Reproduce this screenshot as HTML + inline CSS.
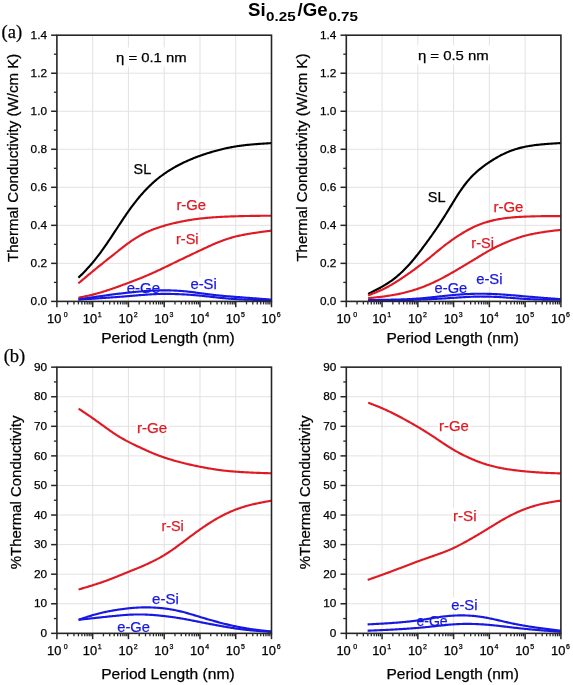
<!DOCTYPE html>
<html><head><meta charset="utf-8"><style>html,body{margin:0;padding:0;background:#fff;}svg{display:block;}text{stroke:#000;stroke-width:0.25px;}</style></head>
<body><svg width="573" height="685" viewBox="0 0 573 685" font-family="'Liberation Sans', Arial, sans-serif">
<rect width="573" height="685" fill="#fff"/>
<text x="248.0" y="15.5" font-size="18" textLength="17.6" font-weight="bold" lengthAdjust="spacingAndGlyphs" style="stroke:none">Si</text>
<text x="266.0" y="20.8" font-size="13" textLength="29.6" font-weight="bold" lengthAdjust="spacingAndGlyphs" style="stroke:none">0.25</text>
<text x="297.6" y="15.5" font-size="18" textLength="30" font-weight="bold" lengthAdjust="spacingAndGlyphs" style="stroke:none">/Ge</text>
<text x="328.4" y="20.8" font-size="13" textLength="29.6" font-weight="bold" lengthAdjust="spacingAndGlyphs" style="stroke:none">0.75</text>
<text x="1.6" y="38.0" font-family="'Liberation Serif', serif" font-size="18.5">(a)</text>
<text x="3.7" y="362.1" font-family="'Liberation Serif', serif" font-size="18.5">(b)</text>
<line x1="92.67" y1="35.2" x2="92.67" y2="301.4" stroke="#e2e2e2" stroke-width="1"/>
<line x1="128.43" y1="35.2" x2="128.43" y2="301.4" stroke="#e2e2e2" stroke-width="1"/>
<line x1="164.20" y1="35.2" x2="164.20" y2="301.4" stroke="#e2e2e2" stroke-width="1"/>
<line x1="199.97" y1="35.2" x2="199.97" y2="301.4" stroke="#e2e2e2" stroke-width="1"/>
<line x1="235.73" y1="35.2" x2="235.73" y2="301.4" stroke="#e2e2e2" stroke-width="1"/>
<line x1="56.9" y1="263.37" x2="271.5" y2="263.37" stroke="#e2e2e2" stroke-width="1"/>
<line x1="56.9" y1="225.34" x2="271.5" y2="225.34" stroke="#e2e2e2" stroke-width="1"/>
<line x1="56.9" y1="187.31" x2="271.5" y2="187.31" stroke="#e2e2e2" stroke-width="1"/>
<line x1="56.9" y1="149.29" x2="271.5" y2="149.29" stroke="#e2e2e2" stroke-width="1"/>
<line x1="56.9" y1="111.26" x2="271.5" y2="111.26" stroke="#e2e2e2" stroke-width="1"/>
<line x1="56.9" y1="73.23" x2="271.5" y2="73.23" stroke="#e2e2e2" stroke-width="1"/>
<rect x="114" y="47.5" width="76" height="19" fill="#fff"/>
<text x="116.0" y="61.8" fill="#000" style="stroke:#000" font-size="13.5" textLength="70.6" lengthAdjust="spacingAndGlyphs">η = 0.1 nm</text>
<rect x="132.7" y="161.8" width="20.1" height="14.6" fill="#fff"/>
<rect x="175.5" y="197.8" width="32.2" height="14.6" fill="#fff"/>
<rect x="175.1" y="231.9" width="25.1" height="14.6" fill="#fff"/>
<rect x="125.8" y="280.9" width="36.0" height="14.6" fill="#fff"/>
<rect x="189.5" y="277.2" width="29.0" height="14.6" fill="#fff"/>
<text x="133.6" y="173.9" fill="#000" style="stroke:#000" font-size="14" textLength="17.5" lengthAdjust="spacingAndGlyphs">SL</text>
<text x="176.4" y="209.9" fill="#e01a22" style="stroke:#e01a22" font-size="14" textLength="29.6" lengthAdjust="spacingAndGlyphs">r-Ge</text>
<text x="176.0" y="244.0" fill="#e01a22" style="stroke:#e01a22" font-size="14" textLength="22.5" lengthAdjust="spacingAndGlyphs">r-Si</text>
<text x="126.7" y="293.0" fill="#1818e4" style="stroke:#1818e4" font-size="14" textLength="33.4" lengthAdjust="spacingAndGlyphs">e-Ge</text>
<text x="190.4" y="289.3" fill="#1818e4" style="stroke:#1818e4" font-size="14" textLength="26.4" lengthAdjust="spacingAndGlyphs">e-Si</text>
<path d="M78.40,277.81 L79.37,276.83 L80.34,275.86 L81.31,274.88 L82.28,273.90 L83.25,272.92 L84.22,271.92 L85.19,270.91 L86.16,269.89 L87.13,268.86 L88.10,267.81 L89.07,266.75 L90.04,265.66 L91.01,264.56 L91.98,263.43 L92.96,262.28 L93.93,261.10 L94.90,259.91 L95.87,258.69 L96.84,257.44 L97.81,256.18 L98.78,254.90 L99.75,253.60 L100.72,252.28 L101.69,250.94 L102.66,249.59 L103.63,248.22 L104.60,246.84 L105.57,245.44 L106.54,244.04 L107.51,242.61 L108.48,241.18 L109.45,239.74 L110.42,238.29 L111.39,236.83 L112.36,235.37 L113.33,233.90 L114.30,232.42 L115.27,230.95 L116.24,229.47 L117.21,227.99 L118.18,226.51 L119.15,225.03 L120.13,223.55 L121.10,222.09 L122.07,220.62 L123.04,219.17 L124.01,217.72 L124.98,216.29 L125.95,214.87 L126.92,213.46 L127.89,212.07 L128.86,210.69 L129.83,209.33 L130.80,207.99 L131.77,206.67 L132.74,205.37 L133.71,204.08 L134.68,202.82 L135.65,201.58 L136.62,200.35 L137.59,199.15 L138.56,197.97 L139.53,196.81 L140.50,195.67 L141.47,194.55 L142.44,193.45 L143.41,192.37 L144.38,191.31 L145.35,190.27 L146.32,189.25 L147.29,188.25 L148.27,187.27 L149.24,186.30 L150.21,185.36 L151.18,184.44 L152.15,183.53 L153.12,182.65 L154.09,181.78 L155.06,180.93 L156.03,180.10 L157.00,179.29 L157.97,178.50 L158.94,177.73 L159.91,176.97 L160.88,176.23 L161.85,175.51 L162.82,174.80 L163.79,174.10 L164.76,173.43 L165.73,172.76 L166.70,172.11 L167.67,171.47 L168.64,170.85 L169.61,170.24 L170.58,169.64 L171.55,169.05 L172.52,168.47 L173.49,167.90 L174.46,167.35 L175.44,166.80 L176.41,166.27 L177.38,165.75 L178.35,165.23 L179.32,164.72 L180.29,164.23 L181.26,163.74 L182.23,163.26 L183.20,162.79 L184.17,162.32 L185.14,161.87 L186.11,161.42 L187.08,160.98 L188.05,160.55 L189.02,160.13 L189.99,159.71 L190.96,159.30 L191.93,158.89 L192.90,158.50 L193.87,158.11 L194.84,157.72 L195.81,157.35 L196.78,156.98 L197.75,156.61 L198.72,156.25 L199.69,155.90 L200.66,155.55 L201.63,155.21 L202.61,154.88 L203.58,154.55 L204.55,154.23 L205.52,153.91 L206.49,153.59 L207.46,153.29 L208.43,152.98 L209.40,152.69 L210.37,152.39 L211.34,152.10 L212.31,151.82 L213.28,151.54 L214.25,151.26 L215.22,150.99 L216.19,150.73 L217.16,150.47 L218.13,150.21 L219.10,149.95 L220.07,149.71 L221.04,149.46 L222.01,149.23 L222.98,148.99 L223.95,148.76 L224.92,148.54 L225.89,148.32 L226.86,148.11 L227.83,147.90 L228.80,147.70 L229.77,147.51 L230.75,147.32 L231.72,147.13 L232.69,146.95 L233.66,146.78 L234.63,146.61 L235.60,146.45 L236.57,146.30 L237.54,146.15 L238.51,146.00 L239.48,145.87 L240.45,145.73 L241.42,145.60 L242.39,145.48 L243.36,145.36 L244.33,145.25 L245.30,145.13 L246.27,145.03 L247.24,144.92 L248.21,144.83 L249.18,144.73 L250.15,144.64 L251.12,144.55 L252.09,144.46 L253.06,144.37 L254.03,144.29 L255.00,144.21 L255.97,144.13 L256.94,144.06 L257.92,143.99 L258.89,143.91 L259.86,143.84 L260.83,143.77 L261.80,143.71 L262.77,143.64 L263.74,143.58 L264.71,143.51 L265.68,143.45 L266.65,143.39 L267.62,143.33 L268.59,143.27 L269.56,143.20 L270.53,143.14 L271.50,143.08" fill="none" stroke="#000" stroke-width="2.15" stroke-linejoin="round" stroke-linecap="butt"/>
<path d="M78.40,283.37 L79.37,282.55 L80.34,281.73 L81.31,280.91 L82.28,280.09 L83.25,279.27 L84.22,278.45 L85.19,277.63 L86.16,276.81 L87.13,276.00 L88.10,275.19 L89.07,274.38 L90.04,273.57 L91.01,272.76 L91.98,271.96 L92.96,271.16 L93.93,270.36 L94.90,269.57 L95.87,268.78 L96.84,267.99 L97.81,267.20 L98.78,266.42 L99.75,265.63 L100.72,264.85 L101.69,264.07 L102.66,263.30 L103.63,262.52 L104.60,261.75 L105.57,260.97 L106.54,260.20 L107.51,259.43 L108.48,258.66 L109.45,257.89 L110.42,257.12 L111.39,256.36 L112.36,255.59 L113.33,254.82 L114.30,254.05 L115.27,253.28 L116.24,252.51 L117.21,251.74 L118.18,250.97 L119.15,250.20 L120.13,249.44 L121.10,248.67 L122.07,247.91 L123.04,247.16 L124.01,246.41 L124.98,245.66 L125.95,244.93 L126.92,244.20 L127.89,243.48 L128.86,242.77 L129.83,242.08 L130.80,241.39 L131.77,240.72 L132.74,240.06 L133.71,239.41 L134.68,238.78 L135.65,238.16 L136.62,237.55 L137.59,236.96 L138.56,236.39 L139.53,235.83 L140.50,235.28 L141.47,234.75 L142.44,234.24 L143.41,233.74 L144.38,233.26 L145.35,232.79 L146.32,232.33 L147.29,231.89 L148.27,231.46 L149.24,231.04 L150.21,230.63 L151.18,230.23 L152.15,229.85 L153.12,229.47 L154.09,229.10 L155.06,228.74 L156.03,228.40 L157.00,228.06 L157.97,227.72 L158.94,227.40 L159.91,227.09 L160.88,226.78 L161.85,226.47 L162.82,226.18 L163.79,225.89 L164.76,225.61 L165.73,225.33 L166.70,225.06 L167.67,224.79 L168.64,224.53 L169.61,224.27 L170.58,224.02 L171.55,223.78 L172.52,223.54 L173.49,223.30 L174.46,223.07 L175.44,222.84 L176.41,222.62 L177.38,222.41 L178.35,222.19 L179.32,221.99 L180.29,221.78 L181.26,221.59 L182.23,221.39 L183.20,221.21 L184.17,221.02 L185.14,220.84 L186.11,220.67 L187.08,220.50 L188.05,220.33 L189.02,220.17 L189.99,220.01 L190.96,219.86 L191.93,219.71 L192.90,219.56 L193.87,219.42 L194.84,219.28 L195.81,219.15 L196.78,219.02 L197.75,218.90 L198.72,218.77 L199.69,218.66 L200.66,218.54 L201.63,218.43 L202.61,218.33 L203.58,218.22 L204.55,218.12 L205.52,218.03 L206.49,217.93 L207.46,217.84 L208.43,217.76 L209.40,217.67 L210.37,217.59 L211.34,217.51 L212.31,217.44 L213.28,217.37 L214.25,217.30 L215.22,217.23 L216.19,217.16 L217.16,217.10 L218.13,217.04 L219.10,216.99 L220.07,216.93 L221.04,216.88 L222.01,216.83 L222.98,216.78 L223.95,216.73 L224.92,216.68 L225.89,216.64 L226.86,216.60 L227.83,216.56 L228.80,216.52 L229.77,216.48 L230.75,216.44 L231.72,216.41 L232.69,216.37 L233.66,216.34 L234.63,216.31 L235.60,216.28 L236.57,216.25 L237.54,216.22 L238.51,216.20 L239.48,216.17 L240.45,216.14 L241.42,216.12 L242.39,216.10 L243.36,216.08 L244.33,216.05 L245.30,216.03 L246.27,216.01 L247.24,216.00 L248.21,215.98 L249.18,215.96 L250.15,215.94 L251.12,215.93 L252.09,215.91 L253.06,215.90 L254.03,215.88 L255.00,215.87 L255.97,215.86 L256.94,215.85 L257.92,215.83 L258.89,215.82 L259.86,215.81 L260.83,215.80 L261.80,215.79 L262.77,215.78 L263.74,215.77 L264.71,215.76 L265.68,215.75 L266.65,215.74 L267.62,215.73 L268.59,215.72 L269.56,215.71 L270.53,215.71 L271.50,215.70" fill="none" stroke="#e01a22" stroke-width="2.15" stroke-linejoin="round" stroke-linecap="butt"/>
<path d="M78.40,297.75 L79.37,297.56 L80.34,297.36 L81.31,297.17 L82.28,296.97 L83.25,296.77 L84.22,296.57 L85.19,296.37 L86.16,296.16 L87.13,295.95 L88.10,295.74 L89.07,295.52 L90.04,295.29 L91.01,295.06 L91.98,294.83 L92.96,294.59 L93.93,294.34 L94.90,294.09 L95.87,293.83 L96.84,293.56 L97.81,293.29 L98.78,293.01 L99.75,292.73 L100.72,292.45 L101.69,292.16 L102.66,291.86 L103.63,291.56 L104.60,291.25 L105.57,290.94 L106.54,290.63 L107.51,290.31 L108.48,289.99 L109.45,289.67 L110.42,289.34 L111.39,289.01 L112.36,288.68 L113.33,288.34 L114.30,288.00 L115.27,287.66 L116.24,287.32 L117.21,286.97 L118.18,286.62 L119.15,286.27 L120.13,285.92 L121.10,285.57 L122.07,285.22 L123.04,284.86 L124.01,284.50 L124.98,284.14 L125.95,283.78 L126.92,283.42 L127.89,283.06 L128.86,282.69 L129.83,282.33 L130.80,281.96 L131.77,281.59 L132.74,281.23 L133.71,280.85 L134.68,280.48 L135.65,280.11 L136.62,279.73 L137.59,279.35 L138.56,278.97 L139.53,278.58 L140.50,278.19 L141.47,277.80 L142.44,277.40 L143.41,277.00 L144.38,276.60 L145.35,276.19 L146.32,275.78 L147.29,275.37 L148.27,274.96 L149.24,274.53 L150.21,274.11 L151.18,273.68 L152.15,273.25 L153.12,272.82 L154.09,272.38 L155.06,271.94 L156.03,271.50 L157.00,271.05 L157.97,270.60 L158.94,270.14 L159.91,269.69 L160.88,269.23 L161.85,268.77 L162.82,268.30 L163.79,267.84 L164.76,267.37 L165.73,266.90 L166.70,266.43 L167.67,265.96 L168.64,265.49 L169.61,265.01 L170.58,264.54 L171.55,264.07 L172.52,263.59 L173.49,263.12 L174.46,262.65 L175.44,262.18 L176.41,261.71 L177.38,261.24 L178.35,260.77 L179.32,260.31 L180.29,259.84 L181.26,259.37 L182.23,258.91 L183.20,258.44 L184.17,257.98 L185.14,257.51 L186.11,257.05 L187.08,256.59 L188.05,256.13 L189.02,255.67 L189.99,255.20 L190.96,254.74 L191.93,254.28 L192.90,253.82 L193.87,253.36 L194.84,252.90 L195.81,252.44 L196.78,251.99 L197.75,251.53 L198.72,251.07 L199.69,250.61 L200.66,250.15 L201.63,249.69 L202.61,249.24 L203.58,248.78 L204.55,248.33 L205.52,247.87 L206.49,247.42 L207.46,246.97 L208.43,246.53 L209.40,246.09 L210.37,245.65 L211.34,245.21 L212.31,244.78 L213.28,244.36 L214.25,243.94 L215.22,243.52 L216.19,243.11 L217.16,242.71 L218.13,242.31 L219.10,241.92 L220.07,241.54 L221.04,241.16 L222.01,240.79 L222.98,240.43 L223.95,240.08 L224.92,239.74 L225.89,239.41 L226.86,239.09 L227.83,238.77 L228.80,238.46 L229.77,238.17 L230.75,237.88 L231.72,237.60 L232.69,237.32 L233.66,237.06 L234.63,236.80 L235.60,236.56 L236.57,236.32 L237.54,236.08 L238.51,235.86 L239.48,235.64 L240.45,235.43 L241.42,235.22 L242.39,235.03 L243.36,234.83 L244.33,234.64 L245.30,234.46 L246.27,234.29 L247.24,234.11 L248.21,233.94 L249.18,233.78 L250.15,233.62 L251.12,233.46 L252.09,233.31 L253.06,233.16 L254.03,233.01 L255.00,232.87 L255.97,232.72 L256.94,232.58 L257.92,232.45 L258.89,232.31 L259.86,232.18 L260.83,232.05 L261.80,231.92 L262.77,231.79 L263.74,231.66 L264.71,231.54 L265.68,231.41 L266.65,231.29 L267.62,231.17 L268.59,231.05 L269.56,230.92 L270.53,230.80 L271.50,230.68" fill="none" stroke="#e01a22" stroke-width="2.15" stroke-linejoin="round" stroke-linecap="butt"/>
<path d="M78.40,299.40 L79.37,299.25 L80.34,299.11 L81.31,298.96 L82.28,298.82 L83.25,298.67 L84.22,298.53 L85.19,298.38 L86.16,298.24 L87.13,298.10 L88.10,297.95 L89.07,297.81 L90.04,297.67 L91.01,297.52 L91.98,297.38 L92.96,297.24 L93.93,297.10 L94.90,296.96 L95.87,296.82 L96.84,296.68 L97.81,296.54 L98.78,296.40 L99.75,296.26 L100.72,296.13 L101.69,295.99 L102.66,295.85 L103.63,295.72 L104.60,295.58 L105.57,295.45 L106.54,295.32 L107.51,295.19 L108.48,295.06 L109.45,294.93 L110.42,294.80 L111.39,294.67 L112.36,294.54 L113.33,294.42 L114.30,294.29 L115.27,294.17 L116.24,294.04 L117.21,293.92 L118.18,293.80 L119.15,293.68 L120.13,293.57 L121.10,293.45 L122.07,293.33 L123.04,293.22 L124.01,293.11 L124.98,293.00 L125.95,292.89 L126.92,292.78 L127.89,292.67 L128.86,292.57 L129.83,292.46 L130.80,292.36 L131.77,292.26 L132.74,292.17 L133.71,292.07 L134.68,291.98 L135.65,291.88 L136.62,291.79 L137.59,291.70 L138.56,291.62 L139.53,291.54 L140.50,291.45 L141.47,291.38 L142.44,291.30 L143.41,291.23 L144.38,291.15 L145.35,291.09 L146.32,291.02 L147.29,290.96 L148.27,290.90 L149.24,290.84 L150.21,290.78 L151.18,290.73 L152.15,290.68 L153.12,290.64 L154.09,290.60 L155.06,290.56 L156.03,290.52 L157.00,290.49 L157.97,290.46 L158.94,290.43 L159.91,290.41 L160.88,290.39 L161.85,290.38 L162.82,290.37 L163.79,290.36 L164.76,290.36 L165.73,290.36 L166.70,290.37 L167.67,290.37 L168.64,290.39 L169.61,290.40 L170.58,290.43 L171.55,290.45 L172.52,290.48 L173.49,290.52 L174.46,290.56 L175.44,290.60 L176.41,290.65 L177.38,290.70 L178.35,290.76 L179.32,290.82 L180.29,290.88 L181.26,290.96 L182.23,291.03 L183.20,291.11 L184.17,291.20 L185.14,291.29 L186.11,291.38 L187.08,291.48 L188.05,291.59 L189.02,291.70 L189.99,291.81 L190.96,291.93 L191.93,292.05 L192.90,292.18 L193.87,292.31 L194.84,292.44 L195.81,292.58 L196.78,292.71 L197.75,292.85 L198.72,292.99 L199.69,293.13 L200.66,293.27 L201.63,293.40 L202.61,293.54 L203.58,293.67 L204.55,293.80 L205.52,293.93 L206.49,294.06 L207.46,294.18 L208.43,294.31 L209.40,294.43 L210.37,294.55 L211.34,294.66 L212.31,294.78 L213.28,294.89 L214.25,294.99 L215.22,295.10 L216.19,295.20 L217.16,295.30 L218.13,295.40 L219.10,295.50 L220.07,295.59 L221.04,295.68 L222.01,295.77 L222.98,295.86 L223.95,295.95 L224.92,296.03 L225.89,296.11 L226.86,296.20 L227.83,296.28 L228.80,296.35 L229.77,296.43 L230.75,296.51 L231.72,296.59 L232.69,296.66 L233.66,296.74 L234.63,296.81 L235.60,296.89 L236.57,296.96 L237.54,297.04 L238.51,297.11 L239.48,297.19 L240.45,297.26 L241.42,297.34 L242.39,297.41 L243.36,297.48 L244.33,297.56 L245.30,297.63 L246.27,297.70 L247.24,297.78 L248.21,297.85 L249.18,297.93 L250.15,298.00 L251.12,298.07 L252.09,298.15 L253.06,298.22 L254.03,298.29 L255.00,298.36 L255.97,298.44 L256.94,298.51 L257.92,298.58 L258.89,298.66 L259.86,298.73 L260.83,298.80 L261.80,298.87 L262.77,298.95 L263.74,299.02 L264.71,299.09 L265.68,299.17 L266.65,299.24 L267.62,299.31 L268.59,299.38 L269.56,299.46 L270.53,299.53 L271.50,299.60" fill="none" stroke="#1818e4" stroke-width="2.15" stroke-linejoin="round" stroke-linecap="butt"/>
<path d="M78.40,299.60 L79.37,299.54 L80.34,299.48 L81.31,299.42 L82.28,299.36 L83.25,299.30 L84.22,299.24 L85.19,299.18 L86.16,299.12 L87.13,299.05 L88.10,298.99 L89.07,298.93 L90.04,298.87 L91.01,298.81 L91.98,298.75 L92.96,298.68 L93.93,298.62 L94.90,298.56 L95.87,298.49 L96.84,298.43 L97.81,298.37 L98.78,298.30 L99.75,298.24 L100.72,298.17 L101.69,298.11 L102.66,298.04 L103.63,297.98 L104.60,297.91 L105.57,297.85 L106.54,297.78 L107.51,297.71 L108.48,297.64 L109.45,297.58 L110.42,297.51 L111.39,297.44 L112.36,297.37 L113.33,297.30 L114.30,297.23 L115.27,297.15 L116.24,297.08 L117.21,297.01 L118.18,296.93 L119.15,296.86 L120.13,296.79 L121.10,296.71 L122.07,296.63 L123.04,296.56 L124.01,296.48 L124.98,296.40 L125.95,296.32 L126.92,296.24 L127.89,296.16 L128.86,296.08 L129.83,296.00 L130.80,295.92 L131.77,295.83 L132.74,295.75 L133.71,295.67 L134.68,295.59 L135.65,295.51 L136.62,295.43 L137.59,295.35 L138.56,295.27 L139.53,295.19 L140.50,295.11 L141.47,295.03 L142.44,294.96 L143.41,294.88 L144.38,294.81 L145.35,294.74 L146.32,294.67 L147.29,294.60 L148.27,294.53 L149.24,294.47 L150.21,294.41 L151.18,294.35 L152.15,294.29 L153.12,294.24 L154.09,294.19 L155.06,294.14 L156.03,294.09 L157.00,294.05 L157.97,294.02 L158.94,293.98 L159.91,293.96 L160.88,293.93 L161.85,293.92 L162.82,293.90 L163.79,293.89 L164.76,293.89 L165.73,293.89 L166.70,293.89 L167.67,293.90 L168.64,293.91 L169.61,293.92 L170.58,293.94 L171.55,293.96 L172.52,293.98 L173.49,294.00 L174.46,294.03 L175.44,294.06 L176.41,294.09 L177.38,294.13 L178.35,294.16 L179.32,294.20 L180.29,294.24 L181.26,294.29 L182.23,294.33 L183.20,294.38 L184.17,294.43 L185.14,294.49 L186.11,294.54 L187.08,294.60 L188.05,294.66 L189.02,294.73 L189.99,294.79 L190.96,294.86 L191.93,294.93 L192.90,295.01 L193.87,295.09 L194.84,295.17 L195.81,295.25 L196.78,295.34 L197.75,295.43 L198.72,295.52 L199.69,295.61 L200.66,295.71 L201.63,295.80 L202.61,295.90 L203.58,296.00 L204.55,296.10 L205.52,296.21 L206.49,296.31 L207.46,296.42 L208.43,296.52 L209.40,296.63 L210.37,296.74 L211.34,296.85 L212.31,296.96 L213.28,297.07 L214.25,297.17 L215.22,297.28 L216.19,297.39 L217.16,297.50 L218.13,297.60 L219.10,297.70 L220.07,297.81 L221.04,297.91 L222.01,298.00 L222.98,298.10 L223.95,298.19 L224.92,298.28 L225.89,298.37 L226.86,298.46 L227.83,298.54 L228.80,298.63 L229.77,298.71 L230.75,298.78 L231.72,298.86 L232.69,298.93 L233.66,299.00 L234.63,299.06 L235.60,299.12 L236.57,299.18 L237.54,299.24 L238.51,299.29 L239.48,299.34 L240.45,299.39 L241.42,299.44 L242.39,299.48 L243.36,299.52 L244.33,299.56 L245.30,299.60 L246.27,299.63 L247.24,299.66 L248.21,299.69 L249.18,299.72 L250.15,299.75 L251.12,299.77 L252.09,299.79 L253.06,299.81 L254.03,299.83 L255.00,299.85 L255.97,299.87 L256.94,299.88 L257.92,299.90 L258.89,299.91 L259.86,299.92 L260.83,299.93 L261.80,299.94 L262.77,299.95 L263.74,299.96 L264.71,299.97 L265.68,299.97 L266.65,299.98 L267.62,299.99 L268.59,299.99 L269.56,300.00 L270.53,300.00 L271.50,300.01" fill="none" stroke="#1818e4" stroke-width="2.15" stroke-linejoin="round" stroke-linecap="butt"/>
<line x1="51.10" y1="301.40" x2="56.9" y2="301.40" stroke="#262626" stroke-width="1.5"/>
<text x="47.00" y="305.10" text-anchor="end" font-size="11.8">0.0</text>
<line x1="53.90" y1="282.39" x2="56.9" y2="282.39" stroke="#262626" stroke-width="1.3"/>
<line x1="51.10" y1="263.37" x2="56.9" y2="263.37" stroke="#262626" stroke-width="1.5"/>
<text x="47.00" y="267.07" text-anchor="end" font-size="11.8">0.2</text>
<line x1="53.90" y1="244.36" x2="56.9" y2="244.36" stroke="#262626" stroke-width="1.3"/>
<line x1="51.10" y1="225.34" x2="56.9" y2="225.34" stroke="#262626" stroke-width="1.5"/>
<text x="47.00" y="229.04" text-anchor="end" font-size="11.8">0.4</text>
<line x1="53.90" y1="206.33" x2="56.9" y2="206.33" stroke="#262626" stroke-width="1.3"/>
<line x1="51.10" y1="187.31" x2="56.9" y2="187.31" stroke="#262626" stroke-width="1.5"/>
<text x="47.00" y="191.01" text-anchor="end" font-size="11.8">0.6</text>
<line x1="53.90" y1="168.30" x2="56.9" y2="168.30" stroke="#262626" stroke-width="1.3"/>
<line x1="51.10" y1="149.29" x2="56.9" y2="149.29" stroke="#262626" stroke-width="1.5"/>
<text x="47.00" y="152.99" text-anchor="end" font-size="11.8">0.8</text>
<line x1="53.90" y1="130.27" x2="56.9" y2="130.27" stroke="#262626" stroke-width="1.3"/>
<line x1="51.10" y1="111.26" x2="56.9" y2="111.26" stroke="#262626" stroke-width="1.5"/>
<text x="47.00" y="114.96" text-anchor="end" font-size="11.8">1.0</text>
<line x1="53.90" y1="92.24" x2="56.9" y2="92.24" stroke="#262626" stroke-width="1.3"/>
<line x1="51.10" y1="73.23" x2="56.9" y2="73.23" stroke="#262626" stroke-width="1.5"/>
<text x="47.00" y="76.93" text-anchor="end" font-size="11.8">1.2</text>
<line x1="53.90" y1="54.21" x2="56.9" y2="54.21" stroke="#262626" stroke-width="1.3"/>
<line x1="51.10" y1="35.20" x2="56.9" y2="35.20" stroke="#262626" stroke-width="1.5"/>
<text x="47.00" y="38.90" text-anchor="end" font-size="11.8">1.4</text>
<line x1="56.90" y1="301.4" x2="56.90" y2="307.20" stroke="#262626" stroke-width="1.5"/>
<line x1="67.67" y1="301.4" x2="67.67" y2="304.40" stroke="#262626" stroke-width="1.3"/>
<line x1="73.97" y1="301.4" x2="73.97" y2="304.40" stroke="#262626" stroke-width="1.3"/>
<line x1="78.43" y1="301.4" x2="78.43" y2="304.40" stroke="#262626" stroke-width="1.3"/>
<line x1="81.90" y1="301.4" x2="81.90" y2="304.40" stroke="#262626" stroke-width="1.3"/>
<line x1="84.73" y1="301.4" x2="84.73" y2="304.40" stroke="#262626" stroke-width="1.3"/>
<line x1="87.13" y1="301.4" x2="87.13" y2="304.40" stroke="#262626" stroke-width="1.3"/>
<line x1="89.20" y1="301.4" x2="89.20" y2="304.40" stroke="#262626" stroke-width="1.3"/>
<line x1="91.03" y1="301.4" x2="91.03" y2="304.40" stroke="#262626" stroke-width="1.3"/>
<text x="47.00" y="322.80" font-size="12.5" textLength="14.3" lengthAdjust="spacingAndGlyphs">10</text><text x="63.80" y="317.20" font-size="7">0</text>
<line x1="92.67" y1="301.4" x2="92.67" y2="307.20" stroke="#262626" stroke-width="1.5"/>
<line x1="103.43" y1="301.4" x2="103.43" y2="304.40" stroke="#262626" stroke-width="1.3"/>
<line x1="109.73" y1="301.4" x2="109.73" y2="304.40" stroke="#262626" stroke-width="1.3"/>
<line x1="114.20" y1="301.4" x2="114.20" y2="304.40" stroke="#262626" stroke-width="1.3"/>
<line x1="117.67" y1="301.4" x2="117.67" y2="304.40" stroke="#262626" stroke-width="1.3"/>
<line x1="120.50" y1="301.4" x2="120.50" y2="304.40" stroke="#262626" stroke-width="1.3"/>
<line x1="122.89" y1="301.4" x2="122.89" y2="304.40" stroke="#262626" stroke-width="1.3"/>
<line x1="124.97" y1="301.4" x2="124.97" y2="304.40" stroke="#262626" stroke-width="1.3"/>
<line x1="126.80" y1="301.4" x2="126.80" y2="304.40" stroke="#262626" stroke-width="1.3"/>
<text x="82.77" y="322.80" font-size="12.5" textLength="14.3" lengthAdjust="spacingAndGlyphs">10</text><text x="97.87" y="317.20" font-size="7">1</text>
<line x1="128.43" y1="301.4" x2="128.43" y2="307.20" stroke="#262626" stroke-width="1.5"/>
<line x1="139.20" y1="301.4" x2="139.20" y2="304.40" stroke="#262626" stroke-width="1.3"/>
<line x1="145.50" y1="301.4" x2="145.50" y2="304.40" stroke="#262626" stroke-width="1.3"/>
<line x1="149.97" y1="301.4" x2="149.97" y2="304.40" stroke="#262626" stroke-width="1.3"/>
<line x1="153.43" y1="301.4" x2="153.43" y2="304.40" stroke="#262626" stroke-width="1.3"/>
<line x1="156.27" y1="301.4" x2="156.27" y2="304.40" stroke="#262626" stroke-width="1.3"/>
<line x1="158.66" y1="301.4" x2="158.66" y2="304.40" stroke="#262626" stroke-width="1.3"/>
<line x1="160.73" y1="301.4" x2="160.73" y2="304.40" stroke="#262626" stroke-width="1.3"/>
<line x1="162.56" y1="301.4" x2="162.56" y2="304.40" stroke="#262626" stroke-width="1.3"/>
<text x="118.53" y="322.80" font-size="12.5" textLength="14.3" lengthAdjust="spacingAndGlyphs">10</text><text x="133.63" y="317.20" font-size="7">2</text>
<line x1="164.20" y1="301.4" x2="164.20" y2="307.20" stroke="#262626" stroke-width="1.5"/>
<line x1="174.97" y1="301.4" x2="174.97" y2="304.40" stroke="#262626" stroke-width="1.3"/>
<line x1="181.27" y1="301.4" x2="181.27" y2="304.40" stroke="#262626" stroke-width="1.3"/>
<line x1="185.73" y1="301.4" x2="185.73" y2="304.40" stroke="#262626" stroke-width="1.3"/>
<line x1="189.20" y1="301.4" x2="189.20" y2="304.40" stroke="#262626" stroke-width="1.3"/>
<line x1="192.03" y1="301.4" x2="192.03" y2="304.40" stroke="#262626" stroke-width="1.3"/>
<line x1="194.43" y1="301.4" x2="194.43" y2="304.40" stroke="#262626" stroke-width="1.3"/>
<line x1="196.50" y1="301.4" x2="196.50" y2="304.40" stroke="#262626" stroke-width="1.3"/>
<line x1="198.33" y1="301.4" x2="198.33" y2="304.40" stroke="#262626" stroke-width="1.3"/>
<text x="154.30" y="322.80" font-size="12.5" textLength="14.3" lengthAdjust="spacingAndGlyphs">10</text><text x="169.40" y="317.20" font-size="7">3</text>
<line x1="199.97" y1="301.4" x2="199.97" y2="307.20" stroke="#262626" stroke-width="1.5"/>
<line x1="210.73" y1="301.4" x2="210.73" y2="304.40" stroke="#262626" stroke-width="1.3"/>
<line x1="217.03" y1="301.4" x2="217.03" y2="304.40" stroke="#262626" stroke-width="1.3"/>
<line x1="221.50" y1="301.4" x2="221.50" y2="304.40" stroke="#262626" stroke-width="1.3"/>
<line x1="224.97" y1="301.4" x2="224.97" y2="304.40" stroke="#262626" stroke-width="1.3"/>
<line x1="227.80" y1="301.4" x2="227.80" y2="304.40" stroke="#262626" stroke-width="1.3"/>
<line x1="230.19" y1="301.4" x2="230.19" y2="304.40" stroke="#262626" stroke-width="1.3"/>
<line x1="232.27" y1="301.4" x2="232.27" y2="304.40" stroke="#262626" stroke-width="1.3"/>
<line x1="234.10" y1="301.4" x2="234.10" y2="304.40" stroke="#262626" stroke-width="1.3"/>
<text x="190.07" y="322.80" font-size="12.5" textLength="14.3" lengthAdjust="spacingAndGlyphs">10</text><text x="205.17" y="317.20" font-size="7">4</text>
<line x1="235.73" y1="301.4" x2="235.73" y2="307.20" stroke="#262626" stroke-width="1.5"/>
<line x1="246.50" y1="301.4" x2="246.50" y2="304.40" stroke="#262626" stroke-width="1.3"/>
<line x1="252.80" y1="301.4" x2="252.80" y2="304.40" stroke="#262626" stroke-width="1.3"/>
<line x1="257.27" y1="301.4" x2="257.27" y2="304.40" stroke="#262626" stroke-width="1.3"/>
<line x1="260.73" y1="301.4" x2="260.73" y2="304.40" stroke="#262626" stroke-width="1.3"/>
<line x1="263.57" y1="301.4" x2="263.57" y2="304.40" stroke="#262626" stroke-width="1.3"/>
<line x1="265.96" y1="301.4" x2="265.96" y2="304.40" stroke="#262626" stroke-width="1.3"/>
<line x1="268.03" y1="301.4" x2="268.03" y2="304.40" stroke="#262626" stroke-width="1.3"/>
<line x1="269.86" y1="301.4" x2="269.86" y2="304.40" stroke="#262626" stroke-width="1.3"/>
<text x="225.83" y="322.80" font-size="12.5" textLength="14.3" lengthAdjust="spacingAndGlyphs">10</text><text x="240.93" y="317.20" font-size="7">5</text>
<line x1="271.50" y1="301.4" x2="271.50" y2="307.20" stroke="#262626" stroke-width="1.5"/>
<text x="261.60" y="322.80" font-size="12.5" textLength="14.3" lengthAdjust="spacingAndGlyphs">10</text><text x="276.70" y="317.20" font-size="7">6</text>
<rect x="56.9" y="35.2" width="214.60" height="266.20" fill="none" stroke="#262626" stroke-width="1.6"/>
<line x1="382.07" y1="35.2" x2="382.07" y2="301.4" stroke="#e2e2e2" stroke-width="1"/>
<line x1="417.83" y1="35.2" x2="417.83" y2="301.4" stroke="#e2e2e2" stroke-width="1"/>
<line x1="453.60" y1="35.2" x2="453.60" y2="301.4" stroke="#e2e2e2" stroke-width="1"/>
<line x1="489.37" y1="35.2" x2="489.37" y2="301.4" stroke="#e2e2e2" stroke-width="1"/>
<line x1="525.13" y1="35.2" x2="525.13" y2="301.4" stroke="#e2e2e2" stroke-width="1"/>
<line x1="346.3" y1="263.37" x2="560.9" y2="263.37" stroke="#e2e2e2" stroke-width="1"/>
<line x1="346.3" y1="225.34" x2="560.9" y2="225.34" stroke="#e2e2e2" stroke-width="1"/>
<line x1="346.3" y1="187.31" x2="560.9" y2="187.31" stroke="#e2e2e2" stroke-width="1"/>
<line x1="346.3" y1="149.29" x2="560.9" y2="149.29" stroke="#e2e2e2" stroke-width="1"/>
<line x1="346.3" y1="111.26" x2="560.9" y2="111.26" stroke="#e2e2e2" stroke-width="1"/>
<line x1="346.3" y1="73.23" x2="560.9" y2="73.23" stroke="#e2e2e2" stroke-width="1"/>
<rect x="416" y="45.5" width="76" height="19" fill="#fff"/>
<text x="417.9" y="59.6" fill="#000" style="stroke:#000" font-size="13.5" textLength="70.9" lengthAdjust="spacingAndGlyphs">η = 0.5 nm</text>
<rect x="426.9" y="189.9" width="20.3" height="14.6" fill="#fff"/>
<rect x="492.6" y="199.7" width="32.5" height="14.6" fill="#fff"/>
<rect x="470.4" y="235.5" width="25.2" height="14.6" fill="#fff"/>
<rect x="433.7" y="280.5" width="35.2" height="14.6" fill="#fff"/>
<rect x="475.3" y="272.2" width="28.9" height="14.6" fill="#fff"/>
<text x="427.8" y="202.0" fill="#000" style="stroke:#000" font-size="14" textLength="17.7" lengthAdjust="spacingAndGlyphs">SL</text>
<text x="493.5" y="211.8" fill="#e01a22" style="stroke:#e01a22" font-size="14" textLength="29.9" lengthAdjust="spacingAndGlyphs">r-Ge</text>
<text x="471.3" y="247.6" fill="#e01a22" style="stroke:#e01a22" font-size="14" textLength="22.6" lengthAdjust="spacingAndGlyphs">r-Si</text>
<text x="434.6" y="292.6" fill="#1818e4" style="stroke:#1818e4" font-size="14" textLength="32.6" lengthAdjust="spacingAndGlyphs">e-Ge</text>
<text x="476.2" y="284.3" fill="#1818e4" style="stroke:#1818e4" font-size="14" textLength="26.3" lengthAdjust="spacingAndGlyphs">e-Si</text>
<path d="M368.10,293.89 L369.07,293.42 L370.04,292.94 L371.01,292.46 L371.98,291.98 L372.94,291.50 L373.91,291.01 L374.88,290.52 L375.85,290.03 L376.82,289.53 L377.79,289.02 L378.76,288.50 L379.73,287.98 L380.69,287.44 L381.66,286.90 L382.63,286.35 L383.60,285.78 L384.57,285.20 L385.54,284.61 L386.51,284.01 L387.48,283.39 L388.45,282.76 L389.41,282.11 L390.38,281.44 L391.35,280.76 L392.32,280.05 L393.29,279.33 L394.26,278.59 L395.23,277.83 L396.20,277.05 L397.17,276.24 L398.13,275.42 L399.10,274.58 L400.07,273.72 L401.04,272.83 L402.01,271.93 L402.98,271.00 L403.95,270.05 L404.92,269.08 L405.88,268.09 L406.85,267.07 L407.82,266.04 L408.79,264.98 L409.76,263.91 L410.73,262.81 L411.70,261.69 L412.67,260.54 L413.64,259.38 L414.60,258.20 L415.57,257.01 L416.54,255.79 L417.51,254.57 L418.48,253.32 L419.45,252.07 L420.42,250.80 L421.39,249.53 L422.36,248.24 L423.32,246.95 L424.29,245.65 L425.26,244.34 L426.23,243.03 L427.20,241.71 L428.17,240.39 L429.14,239.05 L430.11,237.71 L431.07,236.36 L432.04,235.00 L433.01,233.62 L433.98,232.23 L434.95,230.83 L435.92,229.42 L436.89,227.99 L437.86,226.55 L438.83,225.10 L439.79,223.63 L440.76,222.14 L441.73,220.65 L442.70,219.14 L443.67,217.62 L444.64,216.08 L445.61,214.54 L446.58,212.98 L447.55,211.42 L448.51,209.84 L449.48,208.26 L450.45,206.67 L451.42,205.09 L452.39,203.50 L453.36,201.92 L454.33,200.34 L455.30,198.78 L456.26,197.23 L457.23,195.69 L458.20,194.18 L459.17,192.70 L460.14,191.24 L461.11,189.82 L462.08,188.43 L463.05,187.08 L464.02,185.76 L464.98,184.49 L465.95,183.24 L466.92,182.04 L467.89,180.87 L468.86,179.74 L469.83,178.64 L470.80,177.58 L471.77,176.55 L472.74,175.56 L473.70,174.59 L474.67,173.65 L475.64,172.74 L476.61,171.86 L477.58,171.00 L478.55,170.17 L479.52,169.36 L480.49,168.57 L481.45,167.80 L482.42,167.05 L483.39,166.32 L484.36,165.61 L485.33,164.91 L486.30,164.22 L487.27,163.55 L488.24,162.90 L489.21,162.25 L490.17,161.61 L491.14,160.98 L492.11,160.37 L493.08,159.76 L494.05,159.16 L495.02,158.58 L495.99,158.01 L496.96,157.45 L497.93,156.90 L498.89,156.36 L499.86,155.84 L500.83,155.32 L501.80,154.83 L502.77,154.34 L503.74,153.87 L504.71,153.41 L505.68,152.97 L506.64,152.54 L507.61,152.12 L508.58,151.71 L509.55,151.32 L510.52,150.94 L511.49,150.58 L512.46,150.23 L513.43,149.89 L514.40,149.56 L515.36,149.25 L516.33,148.95 L517.30,148.66 L518.27,148.39 L519.24,148.12 L520.21,147.87 L521.18,147.63 L522.15,147.40 L523.12,147.18 L524.08,146.97 L525.05,146.77 L526.02,146.57 L526.99,146.39 L527.96,146.21 L528.93,146.04 L529.90,145.88 L530.87,145.73 L531.83,145.58 L532.80,145.44 L533.77,145.30 L534.74,145.17 L535.71,145.05 L536.68,144.93 L537.65,144.82 L538.62,144.71 L539.59,144.60 L540.55,144.50 L541.52,144.41 L542.49,144.32 L543.46,144.23 L544.43,144.15 L545.40,144.07 L546.37,143.99 L547.34,143.92 L548.31,143.84 L549.27,143.77 L550.24,143.71 L551.21,143.64 L552.18,143.58 L553.15,143.52 L554.12,143.46 L555.09,143.40 L556.06,143.35 L557.02,143.29 L557.99,143.24 L558.96,143.18 L559.93,143.13 L560.90,143.08" fill="none" stroke="#000" stroke-width="2.15" stroke-linejoin="round" stroke-linecap="butt"/>
<path d="M368.10,295.40 L369.07,295.04 L370.04,294.67 L371.01,294.30 L371.98,293.93 L372.94,293.55 L373.91,293.17 L374.88,292.79 L375.85,292.40 L376.82,292.00 L377.79,291.60 L378.76,291.19 L379.73,290.77 L380.69,290.33 L381.66,289.89 L382.63,289.44 L383.60,288.97 L384.57,288.49 L385.54,288.00 L386.51,287.50 L387.48,286.99 L388.45,286.46 L389.41,285.93 L390.38,285.38 L391.35,284.82 L392.32,284.26 L393.29,283.68 L394.26,283.09 L395.23,282.50 L396.20,281.89 L397.17,281.28 L398.13,280.66 L399.10,280.04 L400.07,279.40 L401.04,278.76 L402.01,278.12 L402.98,277.47 L403.95,276.81 L404.92,276.15 L405.88,275.48 L406.85,274.81 L407.82,274.14 L408.79,273.46 L409.76,272.78 L410.73,272.09 L411.70,271.41 L412.67,270.71 L413.64,270.01 L414.60,269.31 L415.57,268.60 L416.54,267.89 L417.51,267.17 L418.48,266.45 L419.45,265.72 L420.42,264.99 L421.39,264.25 L422.36,263.50 L423.32,262.75 L424.29,261.99 L425.26,261.22 L426.23,260.45 L427.20,259.67 L428.17,258.89 L429.14,258.09 L430.11,257.30 L431.07,256.50 L432.04,255.70 L433.01,254.90 L433.98,254.10 L434.95,253.29 L435.92,252.49 L436.89,251.69 L437.86,250.90 L438.83,250.11 L439.79,249.32 L440.76,248.54 L441.73,247.76 L442.70,246.99 L443.67,246.23 L444.64,245.47 L445.61,244.72 L446.58,243.98 L447.55,243.25 L448.51,242.53 L449.48,241.82 L450.45,241.11 L451.42,240.42 L452.39,239.73 L453.36,239.06 L454.33,238.39 L455.30,237.73 L456.26,237.08 L457.23,236.44 L458.20,235.81 L459.17,235.19 L460.14,234.58 L461.11,233.97 L462.08,233.37 L463.05,232.79 L464.02,232.21 L464.98,231.64 L465.95,231.08 L466.92,230.53 L467.89,229.99 L468.86,229.47 L469.83,228.95 L470.80,228.45 L471.77,227.96 L472.74,227.48 L473.70,227.02 L474.67,226.57 L475.64,226.13 L476.61,225.71 L477.58,225.30 L478.55,224.91 L479.52,224.52 L480.49,224.15 L481.45,223.79 L482.42,223.45 L483.39,223.11 L484.36,222.79 L485.33,222.48 L486.30,222.18 L487.27,221.89 L488.24,221.61 L489.21,221.35 L490.17,221.09 L491.14,220.84 L492.11,220.60 L493.08,220.37 L494.05,220.15 L495.02,219.94 L495.99,219.74 L496.96,219.55 L497.93,219.36 L498.89,219.18 L499.86,219.01 L500.83,218.85 L501.80,218.70 L502.77,218.55 L503.74,218.41 L504.71,218.27 L505.68,218.15 L506.64,218.03 L507.61,217.91 L508.58,217.80 L509.55,217.70 L510.52,217.60 L511.49,217.50 L512.46,217.42 L513.43,217.33 L514.40,217.25 L515.36,217.18 L516.33,217.11 L517.30,217.04 L518.27,216.98 L519.24,216.92 L520.21,216.86 L521.18,216.81 L522.15,216.76 L523.12,216.71 L524.08,216.67 L525.05,216.63 L526.02,216.59 L526.99,216.55 L527.96,216.51 L528.93,216.48 L529.90,216.45 L530.87,216.42 L531.83,216.39 L532.80,216.36 L533.77,216.34 L534.74,216.31 L535.71,216.29 L536.68,216.27 L537.65,216.25 L538.62,216.24 L539.59,216.22 L540.55,216.21 L541.52,216.19 L542.49,216.18 L543.46,216.17 L544.43,216.16 L545.40,216.15 L546.37,216.14 L547.34,216.13 L548.31,216.13 L549.27,216.12 L550.24,216.12 L551.21,216.11 L552.18,216.11 L553.15,216.11 L554.12,216.10 L555.09,216.10 L556.06,216.10 L557.02,216.10 L557.99,216.10 L558.96,216.09 L559.93,216.09 L560.90,216.09" fill="none" stroke="#e01a22" stroke-width="2.15" stroke-linejoin="round" stroke-linecap="butt"/>
<path d="M368.10,298.23 L369.07,298.12 L370.04,298.02 L371.01,297.92 L371.98,297.82 L372.94,297.72 L373.91,297.61 L374.88,297.51 L375.85,297.40 L376.82,297.29 L377.79,297.18 L378.76,297.06 L379.73,296.95 L380.69,296.83 L381.66,296.71 L382.63,296.59 L383.60,296.46 L384.57,296.33 L385.54,296.20 L386.51,296.06 L387.48,295.92 L388.45,295.77 L389.41,295.62 L390.38,295.47 L391.35,295.31 L392.32,295.15 L393.29,294.98 L394.26,294.81 L395.23,294.64 L396.20,294.46 L397.17,294.27 L398.13,294.08 L399.10,293.88 L400.07,293.67 L401.04,293.46 L402.01,293.24 L402.98,293.02 L403.95,292.79 L404.92,292.55 L405.88,292.31 L406.85,292.06 L407.82,291.80 L408.79,291.54 L409.76,291.27 L410.73,290.99 L411.70,290.71 L412.67,290.42 L413.64,290.12 L414.60,289.82 L415.57,289.51 L416.54,289.19 L417.51,288.87 L418.48,288.53 L419.45,288.20 L420.42,287.85 L421.39,287.50 L422.36,287.13 L423.32,286.77 L424.29,286.39 L425.26,286.01 L426.23,285.62 L427.20,285.22 L428.17,284.81 L429.14,284.40 L430.11,283.98 L431.07,283.55 L432.04,283.12 L433.01,282.67 L433.98,282.22 L434.95,281.77 L435.92,281.30 L436.89,280.83 L437.86,280.35 L438.83,279.86 L439.79,279.37 L440.76,278.87 L441.73,278.36 L442.70,277.85 L443.67,277.34 L444.64,276.82 L445.61,276.29 L446.58,275.76 L447.55,275.23 L448.51,274.69 L449.48,274.14 L450.45,273.60 L451.42,273.05 L452.39,272.49 L453.36,271.94 L454.33,271.37 L455.30,270.81 L456.26,270.25 L457.23,269.68 L458.20,269.11 L459.17,268.53 L460.14,267.96 L461.11,267.38 L462.08,266.81 L463.05,266.23 L464.02,265.65 L464.98,265.06 L465.95,264.48 L466.92,263.90 L467.89,263.31 L468.86,262.73 L469.83,262.14 L470.80,261.56 L471.77,260.97 L472.74,260.39 L473.70,259.80 L474.67,259.22 L475.64,258.63 L476.61,258.05 L477.58,257.46 L478.55,256.88 L479.52,256.29 L480.49,255.71 L481.45,255.12 L482.42,254.54 L483.39,253.96 L484.36,253.39 L485.33,252.82 L486.30,252.25 L487.27,251.69 L488.24,251.14 L489.21,250.59 L490.17,250.06 L491.14,249.53 L492.11,249.01 L493.08,248.50 L494.05,248.00 L495.02,247.51 L495.99,247.02 L496.96,246.54 L497.93,246.08 L498.89,245.61 L499.86,245.16 L500.83,244.71 L501.80,244.27 L502.77,243.84 L503.74,243.42 L504.71,243.00 L505.68,242.58 L506.64,242.18 L507.61,241.78 L508.58,241.38 L509.55,241.00 L510.52,240.62 L511.49,240.24 L512.46,239.87 L513.43,239.51 L514.40,239.16 L515.36,238.81 L516.33,238.47 L517.30,238.14 L518.27,237.81 L519.24,237.50 L520.21,237.19 L521.18,236.89 L522.15,236.59 L523.12,236.31 L524.08,236.03 L525.05,235.77 L526.02,235.51 L526.99,235.26 L527.96,235.02 L528.93,234.79 L529.90,234.57 L530.87,234.35 L531.83,234.14 L532.80,233.94 L533.77,233.74 L534.74,233.56 L535.71,233.37 L536.68,233.19 L537.65,233.02 L538.62,232.85 L539.59,232.69 L540.55,232.53 L541.52,232.37 L542.49,232.22 L543.46,232.08 L544.43,231.93 L545.40,231.79 L546.37,231.66 L547.34,231.52 L548.31,231.39 L549.27,231.27 L550.24,231.14 L551.21,231.02 L552.18,230.90 L553.15,230.78 L554.12,230.66 L555.09,230.55 L556.06,230.43 L557.02,230.32 L557.99,230.21 L558.96,230.10 L559.93,229.99 L560.90,229.87" fill="none" stroke="#e01a22" stroke-width="2.15" stroke-linejoin="round" stroke-linecap="butt"/>
<path d="M368.10,300.10 L369.07,300.09 L370.04,300.08 L371.01,300.06 L371.98,300.05 L372.94,300.03 L373.91,300.02 L374.88,300.00 L375.85,299.99 L376.82,299.97 L377.79,299.96 L378.76,299.94 L379.73,299.92 L380.69,299.91 L381.66,299.89 L382.63,299.87 L383.60,299.85 L384.57,299.84 L385.54,299.82 L386.51,299.80 L387.48,299.78 L388.45,299.76 L389.41,299.73 L390.38,299.71 L391.35,299.69 L392.32,299.67 L393.29,299.64 L394.26,299.62 L395.23,299.59 L396.20,299.56 L397.17,299.54 L398.13,299.51 L399.10,299.48 L400.07,299.45 L401.04,299.41 L402.01,299.38 L402.98,299.35 L403.95,299.31 L404.92,299.28 L405.88,299.24 L406.85,299.20 L407.82,299.15 L408.79,299.11 L409.76,299.06 L410.73,299.02 L411.70,298.97 L412.67,298.91 L413.64,298.86 L414.60,298.80 L415.57,298.74 L416.54,298.68 L417.51,298.61 L418.48,298.54 L419.45,298.47 L420.42,298.39 L421.39,298.31 L422.36,298.23 L423.32,298.15 L424.29,298.06 L425.26,297.97 L426.23,297.88 L427.20,297.78 L428.17,297.68 L429.14,297.59 L430.11,297.48 L431.07,297.38 L432.04,297.28 L433.01,297.18 L433.98,297.07 L434.95,296.97 L435.92,296.86 L436.89,296.75 L437.86,296.65 L438.83,296.54 L439.79,296.43 L440.76,296.33 L441.73,296.22 L442.70,296.11 L443.67,296.01 L444.64,295.91 L445.61,295.80 L446.58,295.70 L447.55,295.60 L448.51,295.51 L449.48,295.41 L450.45,295.32 L451.42,295.23 L452.39,295.14 L453.36,295.05 L454.33,294.96 L455.30,294.88 L456.26,294.80 L457.23,294.72 L458.20,294.65 L459.17,294.57 L460.14,294.50 L461.11,294.43 L462.08,294.37 L463.05,294.31 L464.02,294.25 L464.98,294.19 L465.95,294.13 L466.92,294.08 L467.89,294.04 L468.86,293.99 L469.83,293.95 L470.80,293.91 L471.77,293.88 L472.74,293.85 L473.70,293.82 L474.67,293.79 L475.64,293.77 L476.61,293.76 L477.58,293.74 L478.55,293.73 L479.52,293.73 L480.49,293.73 L481.45,293.73 L482.42,293.73 L483.39,293.74 L484.36,293.75 L485.33,293.77 L486.30,293.78 L487.27,293.81 L488.24,293.83 L489.21,293.86 L490.17,293.89 L491.14,293.92 L492.11,293.96 L493.08,294.00 L494.05,294.04 L495.02,294.08 L495.99,294.13 L496.96,294.18 L497.93,294.23 L498.89,294.29 L499.86,294.35 L500.83,294.41 L501.80,294.47 L502.77,294.53 L503.74,294.60 L504.71,294.67 L505.68,294.74 L506.64,294.81 L507.61,294.89 L508.58,294.96 L509.55,295.04 L510.52,295.12 L511.49,295.20 L512.46,295.28 L513.43,295.36 L514.40,295.44 L515.36,295.52 L516.33,295.61 L517.30,295.69 L518.27,295.78 L519.24,295.86 L520.21,295.94 L521.18,296.03 L522.15,296.11 L523.12,296.20 L524.08,296.28 L525.05,296.37 L526.02,296.45 L526.99,296.53 L527.96,296.62 L528.93,296.70 L529.90,296.78 L530.87,296.86 L531.83,296.94 L532.80,297.02 L533.77,297.10 L534.74,297.18 L535.71,297.26 L536.68,297.34 L537.65,297.41 L538.62,297.49 L539.59,297.57 L540.55,297.64 L541.52,297.72 L542.49,297.80 L543.46,297.87 L544.43,297.95 L545.40,298.02 L546.37,298.10 L547.34,298.17 L548.31,298.25 L549.27,298.32 L550.24,298.40 L551.21,298.47 L552.18,298.54 L553.15,298.62 L554.12,298.69 L555.09,298.76 L556.06,298.84 L557.02,298.91 L557.99,298.98 L558.96,299.06 L559.93,299.13 L560.90,299.20" fill="none" stroke="#1818e4" stroke-width="2.15" stroke-linejoin="round" stroke-linecap="butt"/>
<path d="M368.10,300.70 L369.07,300.69 L370.04,300.68 L371.01,300.67 L371.98,300.65 L372.94,300.64 L373.91,300.63 L374.88,300.62 L375.85,300.60 L376.82,300.59 L377.79,300.58 L378.76,300.56 L379.73,300.55 L380.69,300.54 L381.66,300.52 L382.63,300.51 L383.60,300.50 L384.57,300.48 L385.54,300.47 L386.51,300.45 L387.48,300.44 L388.45,300.42 L389.41,300.40 L390.38,300.39 L391.35,300.37 L392.32,300.35 L393.29,300.33 L394.26,300.31 L395.23,300.30 L396.20,300.28 L397.17,300.26 L398.13,300.24 L399.10,300.21 L400.07,300.19 L401.04,300.17 L402.01,300.15 L402.98,300.12 L403.95,300.10 L404.92,300.08 L405.88,300.05 L406.85,300.02 L407.82,300.00 L408.79,299.97 L409.76,299.94 L410.73,299.91 L411.70,299.88 L412.67,299.85 L413.64,299.82 L414.60,299.79 L415.57,299.76 L416.54,299.72 L417.51,299.69 L418.48,299.66 L419.45,299.62 L420.42,299.58 L421.39,299.55 L422.36,299.51 L423.32,299.47 L424.29,299.43 L425.26,299.39 L426.23,299.35 L427.20,299.31 L428.17,299.27 L429.14,299.22 L430.11,299.18 L431.07,299.13 L432.04,299.09 L433.01,299.04 L433.98,298.99 L434.95,298.94 L435.92,298.89 L436.89,298.84 L437.86,298.79 L438.83,298.74 L439.79,298.68 L440.76,298.63 L441.73,298.57 L442.70,298.52 L443.67,298.46 L444.64,298.40 L445.61,298.34 L446.58,298.28 L447.55,298.22 L448.51,298.15 L449.48,298.09 L450.45,298.03 L451.42,297.96 L452.39,297.90 L453.36,297.83 L454.33,297.77 L455.30,297.70 L456.26,297.63 L457.23,297.57 L458.20,297.50 L459.17,297.44 L460.14,297.38 L461.11,297.32 L462.08,297.26 L463.05,297.20 L464.02,297.14 L464.98,297.08 L465.95,297.03 L466.92,296.98 L467.89,296.93 L468.86,296.88 L469.83,296.83 L470.80,296.79 L471.77,296.75 L472.74,296.72 L473.70,296.68 L474.67,296.65 L475.64,296.63 L476.61,296.61 L477.58,296.59 L478.55,296.57 L479.52,296.56 L480.49,296.55 L481.45,296.55 L482.42,296.55 L483.39,296.55 L484.36,296.56 L485.33,296.57 L486.30,296.58 L487.27,296.60 L488.24,296.62 L489.21,296.64 L490.17,296.67 L491.14,296.70 L492.11,296.73 L493.08,296.77 L494.05,296.81 L495.02,296.85 L495.99,296.89 L496.96,296.94 L497.93,296.99 L498.89,297.05 L499.86,297.10 L500.83,297.16 L501.80,297.22 L502.77,297.29 L503.74,297.35 L504.71,297.42 L505.68,297.49 L506.64,297.56 L507.61,297.63 L508.58,297.70 L509.55,297.78 L510.52,297.85 L511.49,297.93 L512.46,298.00 L513.43,298.08 L514.40,298.15 L515.36,298.22 L516.33,298.30 L517.30,298.37 L518.27,298.44 L519.24,298.51 L520.21,298.58 L521.18,298.65 L522.15,298.71 L523.12,298.78 L524.08,298.84 L525.05,298.90 L526.02,298.96 L526.99,299.01 L527.96,299.06 L528.93,299.11 L529.90,299.16 L530.87,299.20 L531.83,299.24 L532.80,299.28 L533.77,299.32 L534.74,299.36 L535.71,299.39 L536.68,299.42 L537.65,299.45 L538.62,299.48 L539.59,299.51 L540.55,299.53 L541.52,299.55 L542.49,299.58 L543.46,299.60 L544.43,299.62 L545.40,299.63 L546.37,299.65 L547.34,299.67 L548.31,299.68 L549.27,299.69 L550.24,299.71 L551.21,299.72 L552.18,299.73 L553.15,299.74 L554.12,299.75 L555.09,299.76 L556.06,299.77 L557.02,299.78 L557.99,299.79 L558.96,299.79 L559.93,299.80 L560.90,299.81" fill="none" stroke="#1818e4" stroke-width="2.15" stroke-linejoin="round" stroke-linecap="butt"/>
<line x1="340.50" y1="301.40" x2="346.3" y2="301.40" stroke="#262626" stroke-width="1.5"/>
<text x="336.40" y="305.10" text-anchor="end" font-size="11.8">0.0</text>
<line x1="343.30" y1="282.39" x2="346.3" y2="282.39" stroke="#262626" stroke-width="1.3"/>
<line x1="340.50" y1="263.37" x2="346.3" y2="263.37" stroke="#262626" stroke-width="1.5"/>
<text x="336.40" y="267.07" text-anchor="end" font-size="11.8">0.2</text>
<line x1="343.30" y1="244.36" x2="346.3" y2="244.36" stroke="#262626" stroke-width="1.3"/>
<line x1="340.50" y1="225.34" x2="346.3" y2="225.34" stroke="#262626" stroke-width="1.5"/>
<text x="336.40" y="229.04" text-anchor="end" font-size="11.8">0.4</text>
<line x1="343.30" y1="206.33" x2="346.3" y2="206.33" stroke="#262626" stroke-width="1.3"/>
<line x1="340.50" y1="187.31" x2="346.3" y2="187.31" stroke="#262626" stroke-width="1.5"/>
<text x="336.40" y="191.01" text-anchor="end" font-size="11.8">0.6</text>
<line x1="343.30" y1="168.30" x2="346.3" y2="168.30" stroke="#262626" stroke-width="1.3"/>
<line x1="340.50" y1="149.29" x2="346.3" y2="149.29" stroke="#262626" stroke-width="1.5"/>
<text x="336.40" y="152.99" text-anchor="end" font-size="11.8">0.8</text>
<line x1="343.30" y1="130.27" x2="346.3" y2="130.27" stroke="#262626" stroke-width="1.3"/>
<line x1="340.50" y1="111.26" x2="346.3" y2="111.26" stroke="#262626" stroke-width="1.5"/>
<text x="336.40" y="114.96" text-anchor="end" font-size="11.8">1.0</text>
<line x1="343.30" y1="92.24" x2="346.3" y2="92.24" stroke="#262626" stroke-width="1.3"/>
<line x1="340.50" y1="73.23" x2="346.3" y2="73.23" stroke="#262626" stroke-width="1.5"/>
<text x="336.40" y="76.93" text-anchor="end" font-size="11.8">1.2</text>
<line x1="343.30" y1="54.21" x2="346.3" y2="54.21" stroke="#262626" stroke-width="1.3"/>
<line x1="340.50" y1="35.20" x2="346.3" y2="35.20" stroke="#262626" stroke-width="1.5"/>
<text x="336.40" y="38.90" text-anchor="end" font-size="11.8">1.4</text>
<line x1="346.30" y1="301.4" x2="346.30" y2="307.20" stroke="#262626" stroke-width="1.5"/>
<line x1="357.07" y1="301.4" x2="357.07" y2="304.40" stroke="#262626" stroke-width="1.3"/>
<line x1="363.37" y1="301.4" x2="363.37" y2="304.40" stroke="#262626" stroke-width="1.3"/>
<line x1="367.83" y1="301.4" x2="367.83" y2="304.40" stroke="#262626" stroke-width="1.3"/>
<line x1="371.30" y1="301.4" x2="371.30" y2="304.40" stroke="#262626" stroke-width="1.3"/>
<line x1="374.13" y1="301.4" x2="374.13" y2="304.40" stroke="#262626" stroke-width="1.3"/>
<line x1="376.53" y1="301.4" x2="376.53" y2="304.40" stroke="#262626" stroke-width="1.3"/>
<line x1="378.60" y1="301.4" x2="378.60" y2="304.40" stroke="#262626" stroke-width="1.3"/>
<line x1="380.43" y1="301.4" x2="380.43" y2="304.40" stroke="#262626" stroke-width="1.3"/>
<text x="336.40" y="322.80" font-size="12.5" textLength="14.3" lengthAdjust="spacingAndGlyphs">10</text><text x="353.20" y="317.20" font-size="7">0</text>
<line x1="382.07" y1="301.4" x2="382.07" y2="307.20" stroke="#262626" stroke-width="1.5"/>
<line x1="392.83" y1="301.4" x2="392.83" y2="304.40" stroke="#262626" stroke-width="1.3"/>
<line x1="399.13" y1="301.4" x2="399.13" y2="304.40" stroke="#262626" stroke-width="1.3"/>
<line x1="403.60" y1="301.4" x2="403.60" y2="304.40" stroke="#262626" stroke-width="1.3"/>
<line x1="407.07" y1="301.4" x2="407.07" y2="304.40" stroke="#262626" stroke-width="1.3"/>
<line x1="409.90" y1="301.4" x2="409.90" y2="304.40" stroke="#262626" stroke-width="1.3"/>
<line x1="412.29" y1="301.4" x2="412.29" y2="304.40" stroke="#262626" stroke-width="1.3"/>
<line x1="414.37" y1="301.4" x2="414.37" y2="304.40" stroke="#262626" stroke-width="1.3"/>
<line x1="416.20" y1="301.4" x2="416.20" y2="304.40" stroke="#262626" stroke-width="1.3"/>
<text x="372.17" y="322.80" font-size="12.5" textLength="14.3" lengthAdjust="spacingAndGlyphs">10</text><text x="387.27" y="317.20" font-size="7">1</text>
<line x1="417.83" y1="301.4" x2="417.83" y2="307.20" stroke="#262626" stroke-width="1.5"/>
<line x1="428.60" y1="301.4" x2="428.60" y2="304.40" stroke="#262626" stroke-width="1.3"/>
<line x1="434.90" y1="301.4" x2="434.90" y2="304.40" stroke="#262626" stroke-width="1.3"/>
<line x1="439.37" y1="301.4" x2="439.37" y2="304.40" stroke="#262626" stroke-width="1.3"/>
<line x1="442.83" y1="301.4" x2="442.83" y2="304.40" stroke="#262626" stroke-width="1.3"/>
<line x1="445.67" y1="301.4" x2="445.67" y2="304.40" stroke="#262626" stroke-width="1.3"/>
<line x1="448.06" y1="301.4" x2="448.06" y2="304.40" stroke="#262626" stroke-width="1.3"/>
<line x1="450.13" y1="301.4" x2="450.13" y2="304.40" stroke="#262626" stroke-width="1.3"/>
<line x1="451.96" y1="301.4" x2="451.96" y2="304.40" stroke="#262626" stroke-width="1.3"/>
<text x="407.93" y="322.80" font-size="12.5" textLength="14.3" lengthAdjust="spacingAndGlyphs">10</text><text x="423.03" y="317.20" font-size="7">2</text>
<line x1="453.60" y1="301.4" x2="453.60" y2="307.20" stroke="#262626" stroke-width="1.5"/>
<line x1="464.37" y1="301.4" x2="464.37" y2="304.40" stroke="#262626" stroke-width="1.3"/>
<line x1="470.67" y1="301.4" x2="470.67" y2="304.40" stroke="#262626" stroke-width="1.3"/>
<line x1="475.13" y1="301.4" x2="475.13" y2="304.40" stroke="#262626" stroke-width="1.3"/>
<line x1="478.60" y1="301.4" x2="478.60" y2="304.40" stroke="#262626" stroke-width="1.3"/>
<line x1="481.43" y1="301.4" x2="481.43" y2="304.40" stroke="#262626" stroke-width="1.3"/>
<line x1="483.83" y1="301.4" x2="483.83" y2="304.40" stroke="#262626" stroke-width="1.3"/>
<line x1="485.90" y1="301.4" x2="485.90" y2="304.40" stroke="#262626" stroke-width="1.3"/>
<line x1="487.73" y1="301.4" x2="487.73" y2="304.40" stroke="#262626" stroke-width="1.3"/>
<text x="443.70" y="322.80" font-size="12.5" textLength="14.3" lengthAdjust="spacingAndGlyphs">10</text><text x="458.80" y="317.20" font-size="7">3</text>
<line x1="489.37" y1="301.4" x2="489.37" y2="307.20" stroke="#262626" stroke-width="1.5"/>
<line x1="500.13" y1="301.4" x2="500.13" y2="304.40" stroke="#262626" stroke-width="1.3"/>
<line x1="506.43" y1="301.4" x2="506.43" y2="304.40" stroke="#262626" stroke-width="1.3"/>
<line x1="510.90" y1="301.4" x2="510.90" y2="304.40" stroke="#262626" stroke-width="1.3"/>
<line x1="514.37" y1="301.4" x2="514.37" y2="304.40" stroke="#262626" stroke-width="1.3"/>
<line x1="517.20" y1="301.4" x2="517.20" y2="304.40" stroke="#262626" stroke-width="1.3"/>
<line x1="519.59" y1="301.4" x2="519.59" y2="304.40" stroke="#262626" stroke-width="1.3"/>
<line x1="521.67" y1="301.4" x2="521.67" y2="304.40" stroke="#262626" stroke-width="1.3"/>
<line x1="523.50" y1="301.4" x2="523.50" y2="304.40" stroke="#262626" stroke-width="1.3"/>
<text x="479.47" y="322.80" font-size="12.5" textLength="14.3" lengthAdjust="spacingAndGlyphs">10</text><text x="494.57" y="317.20" font-size="7">4</text>
<line x1="525.13" y1="301.4" x2="525.13" y2="307.20" stroke="#262626" stroke-width="1.5"/>
<line x1="535.90" y1="301.4" x2="535.90" y2="304.40" stroke="#262626" stroke-width="1.3"/>
<line x1="542.20" y1="301.4" x2="542.20" y2="304.40" stroke="#262626" stroke-width="1.3"/>
<line x1="546.67" y1="301.4" x2="546.67" y2="304.40" stroke="#262626" stroke-width="1.3"/>
<line x1="550.13" y1="301.4" x2="550.13" y2="304.40" stroke="#262626" stroke-width="1.3"/>
<line x1="552.97" y1="301.4" x2="552.97" y2="304.40" stroke="#262626" stroke-width="1.3"/>
<line x1="555.36" y1="301.4" x2="555.36" y2="304.40" stroke="#262626" stroke-width="1.3"/>
<line x1="557.43" y1="301.4" x2="557.43" y2="304.40" stroke="#262626" stroke-width="1.3"/>
<line x1="559.26" y1="301.4" x2="559.26" y2="304.40" stroke="#262626" stroke-width="1.3"/>
<text x="515.23" y="322.80" font-size="12.5" textLength="14.3" lengthAdjust="spacingAndGlyphs">10</text><text x="530.33" y="317.20" font-size="7">5</text>
<line x1="560.90" y1="301.4" x2="560.90" y2="307.20" stroke="#262626" stroke-width="1.5"/>
<text x="551.00" y="322.80" font-size="12.5" textLength="14.3" lengthAdjust="spacingAndGlyphs">10</text><text x="566.10" y="317.20" font-size="7">6</text>
<rect x="346.3" y="35.2" width="214.60" height="266.20" fill="none" stroke="#262626" stroke-width="1.6"/>
<line x1="92.67" y1="367.15" x2="92.67" y2="633.35" stroke="#e2e2e2" stroke-width="1"/>
<line x1="128.43" y1="367.15" x2="128.43" y2="633.35" stroke="#e2e2e2" stroke-width="1"/>
<line x1="164.20" y1="367.15" x2="164.20" y2="633.35" stroke="#e2e2e2" stroke-width="1"/>
<line x1="199.97" y1="367.15" x2="199.97" y2="633.35" stroke="#e2e2e2" stroke-width="1"/>
<line x1="235.73" y1="367.15" x2="235.73" y2="633.35" stroke="#e2e2e2" stroke-width="1"/>
<line x1="56.9" y1="603.77" x2="271.5" y2="603.77" stroke="#e2e2e2" stroke-width="1"/>
<line x1="56.9" y1="574.19" x2="271.5" y2="574.19" stroke="#e2e2e2" stroke-width="1"/>
<line x1="56.9" y1="544.62" x2="271.5" y2="544.62" stroke="#e2e2e2" stroke-width="1"/>
<line x1="56.9" y1="515.04" x2="271.5" y2="515.04" stroke="#e2e2e2" stroke-width="1"/>
<line x1="56.9" y1="485.46" x2="271.5" y2="485.46" stroke="#e2e2e2" stroke-width="1"/>
<line x1="56.9" y1="455.88" x2="271.5" y2="455.88" stroke="#e2e2e2" stroke-width="1"/>
<line x1="56.9" y1="426.31" x2="271.5" y2="426.31" stroke="#e2e2e2" stroke-width="1"/>
<line x1="56.9" y1="396.73" x2="271.5" y2="396.73" stroke="#e2e2e2" stroke-width="1"/>
<rect x="136.1" y="420.6" width="32.8" height="14.6" fill="#fff"/>
<rect x="160.5" y="518.4" width="25.0" height="14.6" fill="#fff"/>
<rect x="151.2" y="591.4" width="29.4" height="14.6" fill="#fff"/>
<rect x="116.4" y="619.6" width="35.2" height="14.6" fill="#fff"/>
<text x="137.0" y="432.7" fill="#e01a22" style="stroke:#e01a22" font-size="14" textLength="30.2" lengthAdjust="spacingAndGlyphs">r-Ge</text>
<text x="161.4" y="530.5" fill="#e01a22" style="stroke:#e01a22" font-size="14" textLength="22.4" lengthAdjust="spacingAndGlyphs">r-Si</text>
<text x="152.1" y="603.5" fill="#1818e4" style="stroke:#1818e4" font-size="14" textLength="26.8" lengthAdjust="spacingAndGlyphs">e-Si</text>
<text x="117.3" y="631.7" fill="#1818e4" style="stroke:#1818e4" font-size="14" textLength="32.6" lengthAdjust="spacingAndGlyphs">e-Ge</text>
<path d="M78.60,408.66 L79.57,409.30 L80.54,409.95 L81.51,410.59 L82.48,411.24 L83.45,411.88 L84.42,412.53 L85.39,413.18 L86.35,413.84 L87.32,414.49 L88.29,415.15 L89.26,415.81 L90.23,416.48 L91.20,417.15 L92.17,417.82 L93.14,418.50 L94.11,419.19 L95.08,419.87 L96.05,420.56 L97.02,421.26 L97.99,421.95 L98.96,422.65 L99.93,423.35 L100.89,424.05 L101.86,424.76 L102.83,425.46 L103.80,426.16 L104.77,426.86 L105.74,427.56 L106.71,428.26 L107.68,428.96 L108.65,429.65 L109.62,430.34 L110.59,431.02 L111.56,431.69 L112.53,432.36 L113.50,433.02 L114.47,433.66 L115.44,434.30 L116.40,434.93 L117.37,435.54 L118.34,436.15 L119.31,436.74 L120.28,437.33 L121.25,437.90 L122.22,438.47 L123.19,439.02 L124.16,439.56 L125.13,440.10 L126.10,440.62 L127.07,441.14 L128.04,441.65 L129.01,442.15 L129.98,442.65 L130.94,443.13 L131.91,443.61 L132.88,444.09 L133.85,444.56 L134.82,445.03 L135.79,445.49 L136.76,445.95 L137.73,446.40 L138.70,446.85 L139.67,447.30 L140.64,447.75 L141.61,448.20 L142.58,448.65 L143.55,449.09 L144.52,449.54 L145.48,449.98 L146.45,450.42 L147.42,450.85 L148.39,451.29 L149.36,451.71 L150.33,452.14 L151.30,452.55 L152.27,452.96 L153.24,453.37 L154.21,453.76 L155.18,454.15 L156.15,454.53 L157.12,454.91 L158.09,455.28 L159.06,455.64 L160.03,456.00 L160.99,456.35 L161.96,456.69 L162.93,457.03 L163.90,457.37 L164.87,457.69 L165.84,458.02 L166.81,458.33 L167.78,458.65 L168.75,458.95 L169.72,459.25 L170.69,459.55 L171.66,459.84 L172.63,460.13 L173.60,460.41 L174.57,460.69 L175.53,460.96 L176.50,461.24 L177.47,461.50 L178.44,461.76 L179.41,462.02 L180.38,462.28 L181.35,462.53 L182.32,462.77 L183.29,463.02 L184.26,463.26 L185.23,463.49 L186.20,463.73 L187.17,463.96 L188.14,464.18 L189.11,464.41 L190.07,464.63 L191.04,464.84 L192.01,465.06 L192.98,465.27 L193.95,465.48 L194.92,465.68 L195.89,465.89 L196.86,466.09 L197.83,466.29 L198.80,466.48 L199.77,466.68 L200.74,466.87 L201.71,467.06 L202.68,467.25 L203.65,467.43 L204.62,467.62 L205.58,467.80 L206.55,467.97 L207.52,468.15 L208.49,468.32 L209.46,468.49 L210.43,468.65 L211.40,468.81 L212.37,468.97 L213.34,469.13 L214.31,469.28 L215.28,469.43 L216.25,469.57 L217.22,469.71 L218.19,469.85 L219.16,469.98 L220.12,470.11 L221.09,470.24 L222.06,470.36 L223.03,470.47 L224.00,470.59 L224.97,470.70 L225.94,470.80 L226.91,470.90 L227.88,471.00 L228.85,471.09 L229.82,471.18 L230.79,471.27 L231.76,471.35 L232.73,471.43 L233.70,471.51 L234.66,471.59 L235.63,471.66 L236.60,471.73 L237.57,471.80 L238.54,471.87 L239.51,471.93 L240.48,472.00 L241.45,472.06 L242.42,472.12 L243.39,472.18 L244.36,472.23 L245.33,472.29 L246.30,472.34 L247.27,472.39 L248.24,472.44 L249.21,472.49 L250.17,472.53 L251.14,472.58 L252.11,472.62 L253.08,472.66 L254.05,472.70 L255.02,472.74 L255.99,472.78 L256.96,472.82 L257.93,472.86 L258.90,472.89 L259.87,472.93 L260.84,472.96 L261.81,473.00 L262.78,473.03 L263.75,473.06 L264.71,473.09 L265.68,473.13 L266.65,473.16 L267.62,473.19 L268.59,473.22 L269.56,473.25 L270.53,473.28 L271.50,473.31" fill="none" stroke="#e01a22" stroke-width="2.15" stroke-linejoin="round" stroke-linecap="butt"/>
<path d="M78.60,589.52 L79.57,589.23 L80.54,588.94 L81.51,588.65 L82.48,588.36 L83.45,588.08 L84.42,587.79 L85.39,587.50 L86.35,587.20 L87.32,586.91 L88.29,586.62 L89.26,586.32 L90.23,586.02 L91.20,585.73 L92.17,585.43 L93.14,585.12 L94.11,584.82 L95.08,584.51 L96.05,584.20 L97.02,583.89 L97.99,583.57 L98.96,583.25 L99.93,582.93 L100.89,582.61 L101.86,582.27 L102.83,581.94 L103.80,581.60 L104.77,581.26 L105.74,580.91 L106.71,580.56 L107.68,580.20 L108.65,579.84 L109.62,579.48 L110.59,579.11 L111.56,578.73 L112.53,578.36 L113.50,577.98 L114.47,577.59 L115.44,577.20 L116.40,576.81 L117.37,576.41 L118.34,576.01 L119.31,575.61 L120.28,575.21 L121.25,574.81 L122.22,574.41 L123.19,574.01 L124.16,573.61 L125.13,573.21 L126.10,572.82 L127.07,572.42 L128.04,572.03 L129.01,571.64 L129.98,571.25 L130.94,570.86 L131.91,570.48 L132.88,570.09 L133.85,569.70 L134.82,569.31 L135.79,568.92 L136.76,568.53 L137.73,568.13 L138.70,567.74 L139.67,567.33 L140.64,566.93 L141.61,566.52 L142.58,566.10 L143.55,565.68 L144.52,565.25 L145.48,564.82 L146.45,564.38 L147.42,563.94 L148.39,563.49 L149.36,563.04 L150.33,562.57 L151.30,562.11 L152.27,561.63 L153.24,561.15 L154.21,560.66 L155.18,560.17 L156.15,559.66 L157.12,559.15 L158.09,558.64 L159.06,558.11 L160.03,557.57 L160.99,557.02 L161.96,556.47 L162.93,555.90 L163.90,555.32 L164.87,554.73 L165.84,554.13 L166.81,553.52 L167.78,552.90 L168.75,552.27 L169.72,551.62 L170.69,550.97 L171.66,550.31 L172.63,549.64 L173.60,548.96 L174.57,548.27 L175.53,547.57 L176.50,546.87 L177.47,546.16 L178.44,545.44 L179.41,544.72 L180.38,543.99 L181.35,543.27 L182.32,542.54 L183.29,541.81 L184.26,541.07 L185.23,540.34 L186.20,539.61 L187.17,538.88 L188.14,538.15 L189.11,537.43 L190.07,536.71 L191.04,535.98 L192.01,535.27 L192.98,534.55 L193.95,533.84 L194.92,533.13 L195.89,532.42 L196.86,531.72 L197.83,531.03 L198.80,530.34 L199.77,529.65 L200.74,528.97 L201.71,528.29 L202.68,527.62 L203.65,526.96 L204.62,526.30 L205.58,525.65 L206.55,525.00 L207.52,524.36 L208.49,523.73 L209.46,523.11 L210.43,522.50 L211.40,521.89 L212.37,521.29 L213.34,520.70 L214.31,520.12 L215.28,519.55 L216.25,518.99 L217.22,518.43 L218.19,517.89 L219.16,517.35 L220.12,516.82 L221.09,516.30 L222.06,515.79 L223.03,515.29 L224.00,514.79 L224.97,514.31 L225.94,513.83 L226.91,513.37 L227.88,512.91 L228.85,512.46 L229.82,512.02 L230.79,511.59 L231.76,511.18 L232.73,510.77 L233.70,510.37 L234.66,509.98 L235.63,509.60 L236.60,509.23 L237.57,508.88 L238.54,508.53 L239.51,508.19 L240.48,507.86 L241.45,507.54 L242.42,507.23 L243.39,506.93 L244.36,506.63 L245.33,506.34 L246.30,506.07 L247.27,505.79 L248.24,505.53 L249.21,505.27 L250.17,505.02 L251.14,504.78 L252.11,504.54 L253.08,504.31 L254.05,504.09 L255.02,503.87 L255.99,503.65 L256.96,503.44 L257.93,503.23 L258.90,503.03 L259.87,502.84 L260.84,502.64 L261.81,502.45 L262.78,502.26 L263.75,502.08 L264.71,501.90 L265.68,501.72 L266.65,501.54 L267.62,501.36 L268.59,501.19 L269.56,501.01 L270.53,500.84 L271.50,500.66" fill="none" stroke="#e01a22" stroke-width="2.15" stroke-linejoin="round" stroke-linecap="butt"/>
<path d="M78.60,619.75 L79.57,619.42 L80.54,619.09 L81.51,618.77 L82.48,618.44 L83.45,618.12 L84.42,617.79 L85.39,617.47 L86.35,617.16 L87.32,616.84 L88.29,616.53 L89.26,616.22 L90.23,615.92 L91.20,615.62 L92.17,615.33 L93.14,615.05 L94.11,614.77 L95.08,614.49 L96.05,614.22 L97.02,613.96 L97.99,613.71 L98.96,613.46 L99.93,613.22 L100.89,612.98 L101.86,612.75 L102.83,612.53 L103.80,612.31 L104.77,612.10 L105.74,611.89 L106.71,611.69 L107.68,611.50 L108.65,611.31 L109.62,611.12 L110.59,610.94 L111.56,610.77 L112.53,610.60 L113.50,610.43 L114.47,610.27 L115.44,610.11 L116.40,609.95 L117.37,609.79 L118.34,609.64 L119.31,609.50 L120.28,609.35 L121.25,609.22 L122.22,609.08 L123.19,608.95 L124.16,608.82 L125.13,608.70 L126.10,608.58 L127.07,608.47 L128.04,608.37 L129.01,608.26 L129.98,608.17 L130.94,608.08 L131.91,607.99 L132.88,607.91 L133.85,607.84 L134.82,607.77 L135.79,607.71 L136.76,607.65 L137.73,607.60 L138.70,607.55 L139.67,607.51 L140.64,607.47 L141.61,607.44 L142.58,607.42 L143.55,607.40 L144.52,607.39 L145.48,607.38 L146.45,607.38 L147.42,607.39 L148.39,607.40 L149.36,607.41 L150.33,607.44 L151.30,607.47 L152.27,607.50 L153.24,607.54 L154.21,607.59 L155.18,607.64 L156.15,607.70 L157.12,607.76 L158.09,607.83 L159.06,607.91 L160.03,607.99 L160.99,608.08 L161.96,608.18 L162.93,608.28 L163.90,608.39 L164.87,608.51 L165.84,608.63 L166.81,608.76 L167.78,608.90 L168.75,609.04 L169.72,609.19 L170.69,609.35 L171.66,609.52 L172.63,609.69 L173.60,609.88 L174.57,610.07 L175.53,610.26 L176.50,610.47 L177.47,610.68 L178.44,610.89 L179.41,611.12 L180.38,611.35 L181.35,611.58 L182.32,611.83 L183.29,612.07 L184.26,612.33 L185.23,612.58 L186.20,612.85 L187.17,613.12 L188.14,613.39 L189.11,613.67 L190.07,613.95 L191.04,614.23 L192.01,614.52 L192.98,614.81 L193.95,615.10 L194.92,615.40 L195.89,615.69 L196.86,615.99 L197.83,616.29 L198.80,616.58 L199.77,616.87 L200.74,617.17 L201.71,617.46 L202.68,617.75 L203.65,618.04 L204.62,618.32 L205.58,618.61 L206.55,618.89 L207.52,619.17 L208.49,619.45 L209.46,619.73 L210.43,620.01 L211.40,620.28 L212.37,620.56 L213.34,620.83 L214.31,621.10 L215.28,621.37 L216.25,621.63 L217.22,621.89 L218.19,622.16 L219.16,622.42 L220.12,622.67 L221.09,622.93 L222.06,623.18 L223.03,623.43 L224.00,623.67 L224.97,623.92 L225.94,624.16 L226.91,624.39 L227.88,624.63 L228.85,624.86 L229.82,625.08 L230.79,625.31 L231.76,625.53 L232.73,625.74 L233.70,625.95 L234.66,626.16 L235.63,626.36 L236.60,626.56 L237.57,626.76 L238.54,626.95 L239.51,627.14 L240.48,627.32 L241.45,627.50 L242.42,627.68 L243.39,627.85 L244.36,628.01 L245.33,628.18 L246.30,628.34 L247.27,628.49 L248.24,628.65 L249.21,628.80 L250.17,628.94 L251.14,629.09 L252.11,629.22 L253.08,629.36 L254.05,629.49 L255.02,629.62 L255.99,629.75 L256.96,629.87 L257.93,630.00 L258.90,630.11 L259.87,630.23 L260.84,630.35 L261.81,630.46 L262.78,630.57 L263.75,630.68 L264.71,630.79 L265.68,630.89 L266.65,631.00 L267.62,631.11 L268.59,631.21 L269.56,631.31 L270.53,631.42 L271.50,631.52" fill="none" stroke="#1818e4" stroke-width="2.15" stroke-linejoin="round" stroke-linecap="butt"/>
<path d="M78.60,619.80 L79.57,619.69 L80.54,619.58 L81.51,619.48 L82.48,619.37 L83.45,619.26 L84.42,619.16 L85.39,619.05 L86.35,618.94 L87.32,618.84 L88.29,618.73 L89.26,618.62 L90.23,618.52 L91.20,618.41 L92.17,618.30 L93.14,618.20 L94.11,618.09 L95.08,617.99 L96.05,617.88 L97.02,617.78 L97.99,617.67 L98.96,617.57 L99.93,617.46 L100.89,617.36 L101.86,617.26 L102.83,617.15 L103.80,617.05 L104.77,616.95 L105.74,616.85 L106.71,616.75 L107.68,616.64 L108.65,616.54 L109.62,616.44 L110.59,616.34 L111.56,616.24 L112.53,616.15 L113.50,616.05 L114.47,615.95 L115.44,615.85 L116.40,615.76 L117.37,615.66 L118.34,615.57 L119.31,615.47 L120.28,615.38 L121.25,615.30 L122.22,615.21 L123.19,615.13 L124.16,615.05 L125.13,614.98 L126.10,614.91 L127.07,614.84 L128.04,614.78 L129.01,614.73 L129.98,614.68 L130.94,614.63 L131.91,614.59 L132.88,614.56 L133.85,614.53 L134.82,614.51 L135.79,614.49 L136.76,614.47 L137.73,614.47 L138.70,614.46 L139.67,614.47 L140.64,614.47 L141.61,614.49 L142.58,614.50 L143.55,614.53 L144.52,614.55 L145.48,614.59 L146.45,614.62 L147.42,614.66 L148.39,614.71 L149.36,614.76 L150.33,614.82 L151.30,614.88 L152.27,614.94 L153.24,615.01 L154.21,615.08 L155.18,615.16 L156.15,615.24 L157.12,615.33 L158.09,615.42 L159.06,615.51 L160.03,615.61 L160.99,615.71 L161.96,615.81 L162.93,615.92 L163.90,616.03 L164.87,616.15 L165.84,616.26 L166.81,616.38 L167.78,616.50 L168.75,616.62 L169.72,616.74 L170.69,616.87 L171.66,617.00 L172.63,617.14 L173.60,617.27 L174.57,617.41 L175.53,617.56 L176.50,617.70 L177.47,617.85 L178.44,618.00 L179.41,618.16 L180.38,618.32 L181.35,618.48 L182.32,618.64 L183.29,618.81 L184.26,618.98 L185.23,619.15 L186.20,619.33 L187.17,619.51 L188.14,619.69 L189.11,619.87 L190.07,620.06 L191.04,620.25 L192.01,620.45 L192.98,620.64 L193.95,620.83 L194.92,621.03 L195.89,621.23 L196.86,621.42 L197.83,621.62 L198.80,621.81 L199.77,622.01 L200.74,622.20 L201.71,622.39 L202.68,622.58 L203.65,622.77 L204.62,622.96 L205.58,623.15 L206.55,623.33 L207.52,623.52 L208.49,623.70 L209.46,623.89 L210.43,624.07 L211.40,624.25 L212.37,624.43 L213.34,624.62 L214.31,624.80 L215.28,624.98 L216.25,625.16 L217.22,625.34 L218.19,625.52 L219.16,625.69 L220.12,625.87 L221.09,626.05 L222.06,626.22 L223.03,626.40 L224.00,626.57 L224.97,626.74 L225.94,626.91 L226.91,627.08 L227.88,627.24 L228.85,627.40 L229.82,627.56 L230.79,627.72 L231.76,627.87 L232.73,628.03 L233.70,628.18 L234.66,628.32 L235.63,628.46 L236.60,628.60 L237.57,628.74 L238.54,628.87 L239.51,629.00 L240.48,629.13 L241.45,629.25 L242.42,629.37 L243.39,629.49 L244.36,629.60 L245.33,629.71 L246.30,629.82 L247.27,629.92 L248.24,630.03 L249.21,630.13 L250.17,630.22 L251.14,630.32 L252.11,630.41 L253.08,630.49 L254.05,630.58 L255.02,630.66 L255.99,630.74 L256.96,630.82 L257.93,630.90 L258.90,630.97 L259.87,631.04 L260.84,631.11 L261.81,631.18 L262.78,631.25 L263.75,631.32 L264.71,631.38 L265.68,631.45 L266.65,631.51 L267.62,631.57 L268.59,631.63 L269.56,631.69 L270.53,631.76 L271.50,631.82" fill="none" stroke="#1818e4" stroke-width="2.15" stroke-linejoin="round" stroke-linecap="butt"/>
<line x1="51.10" y1="633.35" x2="56.9" y2="633.35" stroke="#262626" stroke-width="1.5"/>
<text x="47.00" y="637.05" text-anchor="end" font-size="11.8">0</text>
<line x1="53.90" y1="618.56" x2="56.9" y2="618.56" stroke="#262626" stroke-width="1.3"/>
<line x1="51.10" y1="603.77" x2="56.9" y2="603.77" stroke="#262626" stroke-width="1.5"/>
<text x="47.00" y="607.47" text-anchor="end" font-size="11.8">10</text>
<line x1="53.90" y1="588.98" x2="56.9" y2="588.98" stroke="#262626" stroke-width="1.3"/>
<line x1="51.10" y1="574.19" x2="56.9" y2="574.19" stroke="#262626" stroke-width="1.5"/>
<text x="47.00" y="577.89" text-anchor="end" font-size="11.8">20</text>
<line x1="53.90" y1="559.41" x2="56.9" y2="559.41" stroke="#262626" stroke-width="1.3"/>
<line x1="51.10" y1="544.62" x2="56.9" y2="544.62" stroke="#262626" stroke-width="1.5"/>
<text x="47.00" y="548.32" text-anchor="end" font-size="11.8">30</text>
<line x1="53.90" y1="529.83" x2="56.9" y2="529.83" stroke="#262626" stroke-width="1.3"/>
<line x1="51.10" y1="515.04" x2="56.9" y2="515.04" stroke="#262626" stroke-width="1.5"/>
<text x="47.00" y="518.74" text-anchor="end" font-size="11.8">40</text>
<line x1="53.90" y1="500.25" x2="56.9" y2="500.25" stroke="#262626" stroke-width="1.3"/>
<line x1="51.10" y1="485.46" x2="56.9" y2="485.46" stroke="#262626" stroke-width="1.5"/>
<text x="47.00" y="489.16" text-anchor="end" font-size="11.8">50</text>
<line x1="53.90" y1="470.67" x2="56.9" y2="470.67" stroke="#262626" stroke-width="1.3"/>
<line x1="51.10" y1="455.88" x2="56.9" y2="455.88" stroke="#262626" stroke-width="1.5"/>
<text x="47.00" y="459.58" text-anchor="end" font-size="11.8">60</text>
<line x1="53.90" y1="441.09" x2="56.9" y2="441.09" stroke="#262626" stroke-width="1.3"/>
<line x1="51.10" y1="426.31" x2="56.9" y2="426.31" stroke="#262626" stroke-width="1.5"/>
<text x="47.00" y="430.01" text-anchor="end" font-size="11.8">70</text>
<line x1="53.90" y1="411.52" x2="56.9" y2="411.52" stroke="#262626" stroke-width="1.3"/>
<line x1="51.10" y1="396.73" x2="56.9" y2="396.73" stroke="#262626" stroke-width="1.5"/>
<text x="47.00" y="400.43" text-anchor="end" font-size="11.8">80</text>
<line x1="53.90" y1="381.94" x2="56.9" y2="381.94" stroke="#262626" stroke-width="1.3"/>
<line x1="51.10" y1="367.15" x2="56.9" y2="367.15" stroke="#262626" stroke-width="1.5"/>
<text x="47.00" y="370.85" text-anchor="end" font-size="11.8">90</text>
<line x1="56.90" y1="633.35" x2="56.90" y2="639.15" stroke="#262626" stroke-width="1.5"/>
<line x1="67.67" y1="633.35" x2="67.67" y2="636.35" stroke="#262626" stroke-width="1.3"/>
<line x1="73.97" y1="633.35" x2="73.97" y2="636.35" stroke="#262626" stroke-width="1.3"/>
<line x1="78.43" y1="633.35" x2="78.43" y2="636.35" stroke="#262626" stroke-width="1.3"/>
<line x1="81.90" y1="633.35" x2="81.90" y2="636.35" stroke="#262626" stroke-width="1.3"/>
<line x1="84.73" y1="633.35" x2="84.73" y2="636.35" stroke="#262626" stroke-width="1.3"/>
<line x1="87.13" y1="633.35" x2="87.13" y2="636.35" stroke="#262626" stroke-width="1.3"/>
<line x1="89.20" y1="633.35" x2="89.20" y2="636.35" stroke="#262626" stroke-width="1.3"/>
<line x1="91.03" y1="633.35" x2="91.03" y2="636.35" stroke="#262626" stroke-width="1.3"/>
<text x="47.00" y="654.75" font-size="12.5" textLength="14.3" lengthAdjust="spacingAndGlyphs">10</text><text x="63.80" y="649.15" font-size="7">0</text>
<line x1="92.67" y1="633.35" x2="92.67" y2="639.15" stroke="#262626" stroke-width="1.5"/>
<line x1="103.43" y1="633.35" x2="103.43" y2="636.35" stroke="#262626" stroke-width="1.3"/>
<line x1="109.73" y1="633.35" x2="109.73" y2="636.35" stroke="#262626" stroke-width="1.3"/>
<line x1="114.20" y1="633.35" x2="114.20" y2="636.35" stroke="#262626" stroke-width="1.3"/>
<line x1="117.67" y1="633.35" x2="117.67" y2="636.35" stroke="#262626" stroke-width="1.3"/>
<line x1="120.50" y1="633.35" x2="120.50" y2="636.35" stroke="#262626" stroke-width="1.3"/>
<line x1="122.89" y1="633.35" x2="122.89" y2="636.35" stroke="#262626" stroke-width="1.3"/>
<line x1="124.97" y1="633.35" x2="124.97" y2="636.35" stroke="#262626" stroke-width="1.3"/>
<line x1="126.80" y1="633.35" x2="126.80" y2="636.35" stroke="#262626" stroke-width="1.3"/>
<text x="82.77" y="654.75" font-size="12.5" textLength="14.3" lengthAdjust="spacingAndGlyphs">10</text><text x="97.87" y="649.15" font-size="7">1</text>
<line x1="128.43" y1="633.35" x2="128.43" y2="639.15" stroke="#262626" stroke-width="1.5"/>
<line x1="139.20" y1="633.35" x2="139.20" y2="636.35" stroke="#262626" stroke-width="1.3"/>
<line x1="145.50" y1="633.35" x2="145.50" y2="636.35" stroke="#262626" stroke-width="1.3"/>
<line x1="149.97" y1="633.35" x2="149.97" y2="636.35" stroke="#262626" stroke-width="1.3"/>
<line x1="153.43" y1="633.35" x2="153.43" y2="636.35" stroke="#262626" stroke-width="1.3"/>
<line x1="156.27" y1="633.35" x2="156.27" y2="636.35" stroke="#262626" stroke-width="1.3"/>
<line x1="158.66" y1="633.35" x2="158.66" y2="636.35" stroke="#262626" stroke-width="1.3"/>
<line x1="160.73" y1="633.35" x2="160.73" y2="636.35" stroke="#262626" stroke-width="1.3"/>
<line x1="162.56" y1="633.35" x2="162.56" y2="636.35" stroke="#262626" stroke-width="1.3"/>
<text x="118.53" y="654.75" font-size="12.5" textLength="14.3" lengthAdjust="spacingAndGlyphs">10</text><text x="133.63" y="649.15" font-size="7">2</text>
<line x1="164.20" y1="633.35" x2="164.20" y2="639.15" stroke="#262626" stroke-width="1.5"/>
<line x1="174.97" y1="633.35" x2="174.97" y2="636.35" stroke="#262626" stroke-width="1.3"/>
<line x1="181.27" y1="633.35" x2="181.27" y2="636.35" stroke="#262626" stroke-width="1.3"/>
<line x1="185.73" y1="633.35" x2="185.73" y2="636.35" stroke="#262626" stroke-width="1.3"/>
<line x1="189.20" y1="633.35" x2="189.20" y2="636.35" stroke="#262626" stroke-width="1.3"/>
<line x1="192.03" y1="633.35" x2="192.03" y2="636.35" stroke="#262626" stroke-width="1.3"/>
<line x1="194.43" y1="633.35" x2="194.43" y2="636.35" stroke="#262626" stroke-width="1.3"/>
<line x1="196.50" y1="633.35" x2="196.50" y2="636.35" stroke="#262626" stroke-width="1.3"/>
<line x1="198.33" y1="633.35" x2="198.33" y2="636.35" stroke="#262626" stroke-width="1.3"/>
<text x="154.30" y="654.75" font-size="12.5" textLength="14.3" lengthAdjust="spacingAndGlyphs">10</text><text x="169.40" y="649.15" font-size="7">3</text>
<line x1="199.97" y1="633.35" x2="199.97" y2="639.15" stroke="#262626" stroke-width="1.5"/>
<line x1="210.73" y1="633.35" x2="210.73" y2="636.35" stroke="#262626" stroke-width="1.3"/>
<line x1="217.03" y1="633.35" x2="217.03" y2="636.35" stroke="#262626" stroke-width="1.3"/>
<line x1="221.50" y1="633.35" x2="221.50" y2="636.35" stroke="#262626" stroke-width="1.3"/>
<line x1="224.97" y1="633.35" x2="224.97" y2="636.35" stroke="#262626" stroke-width="1.3"/>
<line x1="227.80" y1="633.35" x2="227.80" y2="636.35" stroke="#262626" stroke-width="1.3"/>
<line x1="230.19" y1="633.35" x2="230.19" y2="636.35" stroke="#262626" stroke-width="1.3"/>
<line x1="232.27" y1="633.35" x2="232.27" y2="636.35" stroke="#262626" stroke-width="1.3"/>
<line x1="234.10" y1="633.35" x2="234.10" y2="636.35" stroke="#262626" stroke-width="1.3"/>
<text x="190.07" y="654.75" font-size="12.5" textLength="14.3" lengthAdjust="spacingAndGlyphs">10</text><text x="205.17" y="649.15" font-size="7">4</text>
<line x1="235.73" y1="633.35" x2="235.73" y2="639.15" stroke="#262626" stroke-width="1.5"/>
<line x1="246.50" y1="633.35" x2="246.50" y2="636.35" stroke="#262626" stroke-width="1.3"/>
<line x1="252.80" y1="633.35" x2="252.80" y2="636.35" stroke="#262626" stroke-width="1.3"/>
<line x1="257.27" y1="633.35" x2="257.27" y2="636.35" stroke="#262626" stroke-width="1.3"/>
<line x1="260.73" y1="633.35" x2="260.73" y2="636.35" stroke="#262626" stroke-width="1.3"/>
<line x1="263.57" y1="633.35" x2="263.57" y2="636.35" stroke="#262626" stroke-width="1.3"/>
<line x1="265.96" y1="633.35" x2="265.96" y2="636.35" stroke="#262626" stroke-width="1.3"/>
<line x1="268.03" y1="633.35" x2="268.03" y2="636.35" stroke="#262626" stroke-width="1.3"/>
<line x1="269.86" y1="633.35" x2="269.86" y2="636.35" stroke="#262626" stroke-width="1.3"/>
<text x="225.83" y="654.75" font-size="12.5" textLength="14.3" lengthAdjust="spacingAndGlyphs">10</text><text x="240.93" y="649.15" font-size="7">5</text>
<line x1="271.50" y1="633.35" x2="271.50" y2="639.15" stroke="#262626" stroke-width="1.5"/>
<text x="261.60" y="654.75" font-size="12.5" textLength="14.3" lengthAdjust="spacingAndGlyphs">10</text><text x="276.70" y="649.15" font-size="7">6</text>
<rect x="56.9" y="367.15" width="214.60" height="266.20" fill="none" stroke="#262626" stroke-width="1.6"/>
<line x1="382.07" y1="367.15" x2="382.07" y2="633.35" stroke="#e2e2e2" stroke-width="1"/>
<line x1="417.83" y1="367.15" x2="417.83" y2="633.35" stroke="#e2e2e2" stroke-width="1"/>
<line x1="453.60" y1="367.15" x2="453.60" y2="633.35" stroke="#e2e2e2" stroke-width="1"/>
<line x1="489.37" y1="367.15" x2="489.37" y2="633.35" stroke="#e2e2e2" stroke-width="1"/>
<line x1="525.13" y1="367.15" x2="525.13" y2="633.35" stroke="#e2e2e2" stroke-width="1"/>
<line x1="346.3" y1="603.77" x2="560.9" y2="603.77" stroke="#e2e2e2" stroke-width="1"/>
<line x1="346.3" y1="574.19" x2="560.9" y2="574.19" stroke="#e2e2e2" stroke-width="1"/>
<line x1="346.3" y1="544.62" x2="560.9" y2="544.62" stroke="#e2e2e2" stroke-width="1"/>
<line x1="346.3" y1="515.04" x2="560.9" y2="515.04" stroke="#e2e2e2" stroke-width="1"/>
<line x1="346.3" y1="485.46" x2="560.9" y2="485.46" stroke="#e2e2e2" stroke-width="1"/>
<line x1="346.3" y1="455.88" x2="560.9" y2="455.88" stroke="#e2e2e2" stroke-width="1"/>
<line x1="346.3" y1="426.31" x2="560.9" y2="426.31" stroke="#e2e2e2" stroke-width="1"/>
<line x1="346.3" y1="396.73" x2="560.9" y2="396.73" stroke="#e2e2e2" stroke-width="1"/>
<rect x="438.1" y="419.0" width="32.4" height="14.6" fill="#fff"/>
<rect x="452.1" y="508.4" width="26.2" height="14.6" fill="#fff"/>
<rect x="450.3" y="597.5" width="28.9" height="14.6" fill="#fff"/>
<rect x="415.5" y="613.6" width="33.9" height="14.6" fill="#fff"/>
<text x="439.0" y="431.1" fill="#e01a22" style="stroke:#e01a22" font-size="14" textLength="29.8" lengthAdjust="spacingAndGlyphs">r-Ge</text>
<text x="453.0" y="520.5" fill="#e01a22" style="stroke:#e01a22" font-size="14" textLength="23.6" lengthAdjust="spacingAndGlyphs">r-Si</text>
<text x="451.2" y="609.6" fill="#1818e4" style="stroke:#1818e4" font-size="14" textLength="26.3" lengthAdjust="spacingAndGlyphs">e-Si</text>
<text x="416.4" y="625.7" fill="#1818e4" style="stroke:#1818e4" font-size="14" textLength="31.3" lengthAdjust="spacingAndGlyphs">e-Ge</text>
<path d="M368.20,402.65 L369.17,403.02 L370.14,403.40 L371.11,403.77 L372.07,404.15 L373.04,404.53 L374.01,404.91 L374.98,405.29 L375.95,405.68 L376.92,406.07 L377.88,406.46 L378.85,406.86 L379.82,407.26 L380.79,407.67 L381.76,408.09 L382.73,408.51 L383.69,408.93 L384.66,409.37 L385.63,409.80 L386.60,410.25 L387.57,410.70 L388.54,411.16 L389.50,411.62 L390.47,412.08 L391.44,412.56 L392.41,413.03 L393.38,413.52 L394.35,414.00 L395.31,414.50 L396.28,414.99 L397.25,415.49 L398.22,416.00 L399.19,416.51 L400.16,417.02 L401.12,417.54 L402.09,418.06 L403.06,418.58 L404.03,419.11 L405.00,419.64 L405.97,420.17 L406.93,420.71 L407.90,421.25 L408.87,421.79 L409.84,422.34 L410.81,422.88 L411.78,423.43 L412.74,423.99 L413.71,424.54 L414.68,425.10 L415.65,425.66 L416.62,426.23 L417.59,426.80 L418.55,427.37 L419.52,427.94 L420.49,428.52 L421.46,429.10 L422.43,429.69 L423.40,430.28 L424.36,430.87 L425.33,431.47 L426.30,432.07 L427.27,432.68 L428.24,433.29 L429.21,433.91 L430.17,434.53 L431.14,435.16 L432.11,435.80 L433.08,436.44 L434.05,437.08 L435.02,437.73 L435.98,438.38 L436.95,439.03 L437.92,439.69 L438.89,440.34 L439.86,441.00 L440.83,441.65 L441.79,442.30 L442.76,442.95 L443.73,443.59 L444.70,444.23 L445.67,444.87 L446.64,445.50 L447.60,446.12 L448.57,446.74 L449.54,447.35 L450.51,447.95 L451.48,448.54 L452.45,449.13 L453.41,449.70 L454.38,450.26 L455.35,450.82 L456.32,451.36 L457.29,451.90 L458.26,452.42 L459.22,452.94 L460.19,453.45 L461.16,453.95 L462.13,454.45 L463.10,454.94 L464.07,455.42 L465.03,455.90 L466.00,456.36 L466.97,456.83 L467.94,457.28 L468.91,457.73 L469.88,458.17 L470.84,458.60 L471.81,459.03 L472.78,459.45 L473.75,459.85 L474.72,460.26 L475.69,460.65 L476.65,461.03 L477.62,461.41 L478.59,461.77 L479.56,462.13 L480.53,462.48 L481.50,462.83 L482.46,463.16 L483.43,463.49 L484.40,463.81 L485.37,464.12 L486.34,464.42 L487.31,464.71 L488.27,465.00 L489.24,465.28 L490.21,465.55 L491.18,465.81 L492.15,466.06 L493.12,466.31 L494.08,466.55 L495.05,466.78 L496.02,467.01 L496.99,467.22 L497.96,467.44 L498.93,467.64 L499.89,467.84 L500.86,468.03 L501.83,468.22 L502.80,468.40 L503.77,468.58 L504.74,468.75 L505.70,468.91 L506.67,469.07 L507.64,469.23 L508.61,469.38 L509.58,469.52 L510.55,469.67 L511.51,469.80 L512.48,469.94 L513.45,470.07 L514.42,470.19 L515.39,470.31 L516.36,470.43 L517.32,470.55 L518.29,470.66 L519.26,470.77 L520.23,470.88 L521.20,470.98 L522.17,471.08 L523.13,471.18 L524.10,471.27 L525.07,471.37 L526.04,471.46 L527.01,471.55 L527.98,471.63 L528.94,471.72 L529.91,471.80 L530.88,471.88 L531.85,471.96 L532.82,472.03 L533.79,472.11 L534.75,472.18 L535.72,472.25 L536.69,472.31 L537.66,472.38 L538.63,472.44 L539.60,472.50 L540.56,472.56 L541.53,472.62 L542.50,472.67 L543.47,472.72 L544.44,472.77 L545.41,472.82 L546.37,472.86 L547.34,472.91 L548.31,472.95 L549.28,472.99 L550.25,473.03 L551.22,473.07 L552.18,473.11 L553.15,473.14 L554.12,473.18 L555.09,473.22 L556.06,473.25 L557.03,473.28 L557.99,473.32 L558.96,473.35 L559.93,473.38 L560.90,473.41" fill="none" stroke="#e01a22" stroke-width="2.15" stroke-linejoin="round" stroke-linecap="butt"/>
<path d="M367.70,579.91 L368.67,579.57 L369.64,579.23 L370.61,578.89 L371.58,578.55 L372.55,578.21 L373.53,577.87 L374.50,577.53 L375.47,577.18 L376.44,576.84 L377.41,576.50 L378.38,576.15 L379.35,575.81 L380.32,575.46 L381.29,575.11 L382.26,574.76 L383.23,574.41 L384.20,574.05 L385.18,573.70 L386.15,573.34 L387.12,572.99 L388.09,572.63 L389.06,572.27 L390.03,571.91 L391.00,571.55 L391.97,571.18 L392.94,570.82 L393.91,570.46 L394.88,570.09 L395.85,569.72 L396.83,569.36 L397.80,568.99 L398.77,568.62 L399.74,568.25 L400.71,567.88 L401.68,567.51 L402.65,567.13 L403.62,566.76 L404.59,566.39 L405.56,566.01 L406.53,565.64 L407.51,565.27 L408.48,564.89 L409.45,564.52 L410.42,564.15 L411.39,563.78 L412.36,563.41 L413.33,563.04 L414.30,562.67 L415.27,562.31 L416.24,561.95 L417.21,561.60 L418.18,561.24 L419.16,560.89 L420.13,560.54 L421.10,560.20 L422.07,559.85 L423.04,559.51 L424.01,559.17 L424.98,558.82 L425.95,558.49 L426.92,558.15 L427.89,557.81 L428.86,557.47 L429.83,557.14 L430.81,556.80 L431.78,556.46 L432.75,556.13 L433.72,555.79 L434.69,555.45 L435.66,555.11 L436.63,554.77 L437.60,554.43 L438.57,554.08 L439.54,553.73 L440.51,553.38 L441.48,553.02 L442.46,552.66 L443.43,552.30 L444.40,551.92 L445.37,551.55 L446.34,551.16 L447.31,550.77 L448.28,550.37 L449.25,549.97 L450.22,549.55 L451.19,549.13 L452.16,548.69 L453.14,548.25 L454.11,547.80 L455.08,547.33 L456.05,546.86 L457.02,546.38 L457.99,545.89 L458.96,545.39 L459.93,544.88 L460.90,544.37 L461.87,543.85 L462.84,543.33 L463.81,542.80 L464.79,542.27 L465.76,541.74 L466.73,541.20 L467.70,540.66 L468.67,540.11 L469.64,539.56 L470.61,539.01 L471.58,538.46 L472.55,537.90 L473.52,537.34 L474.49,536.77 L475.46,536.21 L476.44,535.64 L477.41,535.06 L478.38,534.49 L479.35,533.91 L480.32,533.33 L481.29,532.75 L482.26,532.17 L483.23,531.58 L484.20,531.00 L485.17,530.41 L486.14,529.81 L487.12,529.22 L488.09,528.63 L489.06,528.03 L490.03,527.43 L491.00,526.83 L491.97,526.24 L492.94,525.64 L493.91,525.04 L494.88,524.44 L495.85,523.85 L496.82,523.26 L497.79,522.67 L498.77,522.08 L499.74,521.50 L500.71,520.93 L501.68,520.36 L502.65,519.80 L503.62,519.25 L504.59,518.70 L505.56,518.16 L506.53,517.63 L507.50,517.10 L508.47,516.58 L509.44,516.07 L510.42,515.57 L511.39,515.08 L512.36,514.59 L513.33,514.11 L514.30,513.64 L515.27,513.18 L516.24,512.73 L517.21,512.29 L518.18,511.85 L519.15,511.42 L520.12,511.01 L521.09,510.60 L522.07,510.20 L523.04,509.81 L524.01,509.43 L524.98,509.05 L525.95,508.69 L526.92,508.34 L527.89,507.99 L528.86,507.65 L529.83,507.33 L530.80,507.01 L531.77,506.70 L532.75,506.39 L533.72,506.10 L534.69,505.82 L535.66,505.54 L536.63,505.27 L537.60,505.01 L538.57,504.76 L539.54,504.51 L540.51,504.27 L541.48,504.05 L542.45,503.82 L543.42,503.61 L544.40,503.40 L545.37,503.20 L546.34,503.00 L547.31,502.82 L548.28,502.63 L549.25,502.45 L550.22,502.28 L551.19,502.11 L552.16,501.94 L553.13,501.78 L554.10,501.62 L555.07,501.46 L556.05,501.31 L557.02,501.15 L557.99,501.00 L558.96,500.85 L559.93,500.70 L560.90,500.55" fill="none" stroke="#e01a22" stroke-width="2.15" stroke-linejoin="round" stroke-linecap="butt"/>
<path d="M367.60,624.41 L368.57,624.36 L369.54,624.30 L370.51,624.25 L371.49,624.20 L372.46,624.15 L373.43,624.10 L374.40,624.05 L375.37,624.00 L376.34,623.94 L377.31,623.89 L378.28,623.84 L379.26,623.78 L380.23,623.73 L381.20,623.67 L382.17,623.62 L383.14,623.56 L384.11,623.50 L385.08,623.44 L386.06,623.38 L387.03,623.32 L388.00,623.26 L388.97,623.20 L389.94,623.13 L390.91,623.07 L391.88,623.00 L392.86,622.93 L393.83,622.86 L394.80,622.79 L395.77,622.72 L396.74,622.64 L397.71,622.56 L398.68,622.48 L399.65,622.40 L400.63,622.32 L401.60,622.23 L402.57,622.15 L403.54,622.05 L404.51,621.96 L405.48,621.87 L406.45,621.77 L407.43,621.67 L408.40,621.57 L409.37,621.46 L410.34,621.35 L411.31,621.24 L412.28,621.13 L413.25,621.02 L414.23,620.90 L415.20,620.77 L416.17,620.65 L417.14,620.52 L418.11,620.39 L419.08,620.26 L420.05,620.12 L421.02,619.98 L422.00,619.84 L422.97,619.69 L423.94,619.54 L424.91,619.39 L425.88,619.24 L426.85,619.08 L427.82,618.93 L428.80,618.77 L429.77,618.61 L430.74,618.45 L431.71,618.29 L432.68,618.13 L433.65,617.97 L434.62,617.81 L435.59,617.65 L436.57,617.50 L437.54,617.35 L438.51,617.20 L439.48,617.06 L440.45,616.93 L441.42,616.79 L442.39,616.67 L443.37,616.54 L444.34,616.43 L445.31,616.32 L446.28,616.21 L447.25,616.11 L448.22,616.02 L449.19,615.93 L450.17,615.85 L451.14,615.77 L452.11,615.70 L453.08,615.64 L454.05,615.58 L455.02,615.54 L455.99,615.49 L456.96,615.46 L457.94,615.43 L458.91,615.41 L459.88,615.39 L460.85,615.39 L461.82,615.39 L462.79,615.39 L463.76,615.41 L464.74,615.43 L465.71,615.45 L466.68,615.49 L467.65,615.53 L468.62,615.58 L469.59,615.64 L470.56,615.70 L471.54,615.77 L472.51,615.85 L473.48,615.93 L474.45,616.03 L475.42,616.13 L476.39,616.23 L477.36,616.35 L478.33,616.47 L479.31,616.60 L480.28,616.73 L481.25,616.87 L482.22,617.02 L483.19,617.17 L484.16,617.34 L485.13,617.50 L486.11,617.68 L487.08,617.86 L488.05,618.05 L489.02,618.24 L489.99,618.43 L490.96,618.63 L491.93,618.84 L492.91,619.05 L493.88,619.26 L494.85,619.48 L495.82,619.70 L496.79,619.92 L497.76,620.14 L498.73,620.36 L499.70,620.59 L500.68,620.82 L501.65,621.04 L502.62,621.27 L503.59,621.50 L504.56,621.72 L505.53,621.94 L506.50,622.17 L507.48,622.39 L508.45,622.60 L509.42,622.82 L510.39,623.03 L511.36,623.24 L512.33,623.44 L513.30,623.64 L514.27,623.84 L515.25,624.03 L516.22,624.22 L517.19,624.41 L518.16,624.60 L519.13,624.78 L520.10,624.96 L521.07,625.13 L522.05,625.30 L523.02,625.47 L523.99,625.64 L524.96,625.81 L525.93,625.97 L526.90,626.13 L527.87,626.29 L528.85,626.44 L529.82,626.59 L530.79,626.74 L531.76,626.89 L532.73,627.04 L533.70,627.18 L534.67,627.33 L535.64,627.47 L536.62,627.61 L537.59,627.74 L538.56,627.88 L539.53,628.02 L540.50,628.15 L541.47,628.28 L542.44,628.41 L543.42,628.54 L544.39,628.67 L545.36,628.80 L546.33,628.93 L547.30,629.06 L548.27,629.19 L549.24,629.31 L550.22,629.44 L551.19,629.57 L552.16,629.69 L553.13,629.82 L554.10,629.94 L555.07,630.06 L556.04,630.19 L557.01,630.31 L557.99,630.44 L558.96,630.56 L559.93,630.68 L560.90,630.81" fill="none" stroke="#1818e4" stroke-width="2.15" stroke-linejoin="round" stroke-linecap="butt"/>
<path d="M367.60,630.70 L368.57,630.67 L369.54,630.63 L370.51,630.59 L371.49,630.55 L372.46,630.51 L373.43,630.47 L374.40,630.43 L375.37,630.38 L376.34,630.34 L377.31,630.30 L378.28,630.26 L379.26,630.22 L380.23,630.17 L381.20,630.13 L382.17,630.09 L383.14,630.04 L384.11,630.00 L385.08,629.95 L386.06,629.91 L387.03,629.86 L388.00,629.81 L388.97,629.76 L389.94,629.71 L390.91,629.66 L391.88,629.61 L392.86,629.56 L393.83,629.51 L394.80,629.46 L395.77,629.40 L396.74,629.35 L397.71,629.29 L398.68,629.23 L399.65,629.18 L400.63,629.12 L401.60,629.06 L402.57,629.00 L403.54,628.94 L404.51,628.87 L405.48,628.81 L406.45,628.75 L407.43,628.68 L408.40,628.61 L409.37,628.54 L410.34,628.47 L411.31,628.40 L412.28,628.33 L413.25,628.26 L414.23,628.18 L415.20,628.11 L416.17,628.03 L417.14,627.95 L418.11,627.87 L419.08,627.78 L420.05,627.70 L421.02,627.61 L422.00,627.52 L422.97,627.43 L423.94,627.34 L424.91,627.25 L425.88,627.15 L426.85,627.05 L427.82,626.95 L428.80,626.85 L429.77,626.75 L430.74,626.65 L431.71,626.54 L432.68,626.43 L433.65,626.33 L434.62,626.22 L435.59,626.11 L436.57,626.00 L437.54,625.89 L438.51,625.79 L439.48,625.68 L440.45,625.57 L441.42,625.47 L442.39,625.36 L443.37,625.26 L444.34,625.16 L445.31,625.06 L446.28,624.97 L447.25,624.87 L448.22,624.78 L449.19,624.69 L450.17,624.61 L451.14,624.53 L452.11,624.46 L453.08,624.38 L454.05,624.32 L455.02,624.26 L455.99,624.20 L456.96,624.15 L457.94,624.10 L458.91,624.06 L459.88,624.02 L460.85,623.99 L461.82,623.96 L462.79,623.94 L463.76,623.92 L464.74,623.90 L465.71,623.89 L466.68,623.89 L467.65,623.89 L468.62,623.89 L469.59,623.90 L470.56,623.91 L471.54,623.93 L472.51,623.95 L473.48,623.98 L474.45,624.01 L475.42,624.04 L476.39,624.08 L477.36,624.12 L478.33,624.16 L479.31,624.21 L480.28,624.26 L481.25,624.32 L482.22,624.38 L483.19,624.44 L484.16,624.51 L485.13,624.58 L486.11,624.65 L487.08,624.72 L488.05,624.80 L489.02,624.89 L489.99,624.97 L490.96,625.06 L491.93,625.15 L492.91,625.25 L493.88,625.35 L494.85,625.45 L495.82,625.55 L496.79,625.66 L497.76,625.77 L498.73,625.88 L499.70,625.99 L500.68,626.10 L501.65,626.21 L502.62,626.33 L503.59,626.44 L504.56,626.56 L505.53,626.68 L506.50,626.79 L507.48,626.91 L508.45,627.02 L509.42,627.14 L510.39,627.25 L511.36,627.37 L512.33,627.48 L513.30,627.59 L514.27,627.70 L515.25,627.81 L516.22,627.92 L517.19,628.03 L518.16,628.14 L519.13,628.24 L520.10,628.35 L521.07,628.45 L522.05,628.55 L523.02,628.65 L523.99,628.75 L524.96,628.85 L525.93,628.95 L526.90,629.04 L527.87,629.14 L528.85,629.23 L529.82,629.32 L530.79,629.41 L531.76,629.50 L532.73,629.59 L533.70,629.68 L534.67,629.76 L535.64,629.85 L536.62,629.93 L537.59,630.01 L538.56,630.10 L539.53,630.18 L540.50,630.26 L541.47,630.33 L542.44,630.41 L543.42,630.49 L544.39,630.57 L545.36,630.64 L546.33,630.72 L547.30,630.79 L548.27,630.87 L549.24,630.94 L550.22,631.02 L551.19,631.09 L552.16,631.16 L553.13,631.23 L554.10,631.31 L555.07,631.38 L556.04,631.45 L557.01,631.52 L557.99,631.59 L558.96,631.66 L559.93,631.73 L560.90,631.80" fill="none" stroke="#1818e4" stroke-width="2.15" stroke-linejoin="round" stroke-linecap="butt"/>
<line x1="340.50" y1="633.35" x2="346.3" y2="633.35" stroke="#262626" stroke-width="1.5"/>
<text x="336.40" y="637.05" text-anchor="end" font-size="11.8">0</text>
<line x1="343.30" y1="618.56" x2="346.3" y2="618.56" stroke="#262626" stroke-width="1.3"/>
<line x1="340.50" y1="603.77" x2="346.3" y2="603.77" stroke="#262626" stroke-width="1.5"/>
<text x="336.40" y="607.47" text-anchor="end" font-size="11.8">10</text>
<line x1="343.30" y1="588.98" x2="346.3" y2="588.98" stroke="#262626" stroke-width="1.3"/>
<line x1="340.50" y1="574.19" x2="346.3" y2="574.19" stroke="#262626" stroke-width="1.5"/>
<text x="336.40" y="577.89" text-anchor="end" font-size="11.8">20</text>
<line x1="343.30" y1="559.41" x2="346.3" y2="559.41" stroke="#262626" stroke-width="1.3"/>
<line x1="340.50" y1="544.62" x2="346.3" y2="544.62" stroke="#262626" stroke-width="1.5"/>
<text x="336.40" y="548.32" text-anchor="end" font-size="11.8">30</text>
<line x1="343.30" y1="529.83" x2="346.3" y2="529.83" stroke="#262626" stroke-width="1.3"/>
<line x1="340.50" y1="515.04" x2="346.3" y2="515.04" stroke="#262626" stroke-width="1.5"/>
<text x="336.40" y="518.74" text-anchor="end" font-size="11.8">40</text>
<line x1="343.30" y1="500.25" x2="346.3" y2="500.25" stroke="#262626" stroke-width="1.3"/>
<line x1="340.50" y1="485.46" x2="346.3" y2="485.46" stroke="#262626" stroke-width="1.5"/>
<text x="336.40" y="489.16" text-anchor="end" font-size="11.8">50</text>
<line x1="343.30" y1="470.67" x2="346.3" y2="470.67" stroke="#262626" stroke-width="1.3"/>
<line x1="340.50" y1="455.88" x2="346.3" y2="455.88" stroke="#262626" stroke-width="1.5"/>
<text x="336.40" y="459.58" text-anchor="end" font-size="11.8">60</text>
<line x1="343.30" y1="441.09" x2="346.3" y2="441.09" stroke="#262626" stroke-width="1.3"/>
<line x1="340.50" y1="426.31" x2="346.3" y2="426.31" stroke="#262626" stroke-width="1.5"/>
<text x="336.40" y="430.01" text-anchor="end" font-size="11.8">70</text>
<line x1="343.30" y1="411.52" x2="346.3" y2="411.52" stroke="#262626" stroke-width="1.3"/>
<line x1="340.50" y1="396.73" x2="346.3" y2="396.73" stroke="#262626" stroke-width="1.5"/>
<text x="336.40" y="400.43" text-anchor="end" font-size="11.8">80</text>
<line x1="343.30" y1="381.94" x2="346.3" y2="381.94" stroke="#262626" stroke-width="1.3"/>
<line x1="340.50" y1="367.15" x2="346.3" y2="367.15" stroke="#262626" stroke-width="1.5"/>
<text x="336.40" y="370.85" text-anchor="end" font-size="11.8">90</text>
<line x1="346.30" y1="633.35" x2="346.30" y2="639.15" stroke="#262626" stroke-width="1.5"/>
<line x1="357.07" y1="633.35" x2="357.07" y2="636.35" stroke="#262626" stroke-width="1.3"/>
<line x1="363.37" y1="633.35" x2="363.37" y2="636.35" stroke="#262626" stroke-width="1.3"/>
<line x1="367.83" y1="633.35" x2="367.83" y2="636.35" stroke="#262626" stroke-width="1.3"/>
<line x1="371.30" y1="633.35" x2="371.30" y2="636.35" stroke="#262626" stroke-width="1.3"/>
<line x1="374.13" y1="633.35" x2="374.13" y2="636.35" stroke="#262626" stroke-width="1.3"/>
<line x1="376.53" y1="633.35" x2="376.53" y2="636.35" stroke="#262626" stroke-width="1.3"/>
<line x1="378.60" y1="633.35" x2="378.60" y2="636.35" stroke="#262626" stroke-width="1.3"/>
<line x1="380.43" y1="633.35" x2="380.43" y2="636.35" stroke="#262626" stroke-width="1.3"/>
<text x="336.40" y="654.75" font-size="12.5" textLength="14.3" lengthAdjust="spacingAndGlyphs">10</text><text x="353.20" y="649.15" font-size="7">0</text>
<line x1="382.07" y1="633.35" x2="382.07" y2="639.15" stroke="#262626" stroke-width="1.5"/>
<line x1="392.83" y1="633.35" x2="392.83" y2="636.35" stroke="#262626" stroke-width="1.3"/>
<line x1="399.13" y1="633.35" x2="399.13" y2="636.35" stroke="#262626" stroke-width="1.3"/>
<line x1="403.60" y1="633.35" x2="403.60" y2="636.35" stroke="#262626" stroke-width="1.3"/>
<line x1="407.07" y1="633.35" x2="407.07" y2="636.35" stroke="#262626" stroke-width="1.3"/>
<line x1="409.90" y1="633.35" x2="409.90" y2="636.35" stroke="#262626" stroke-width="1.3"/>
<line x1="412.29" y1="633.35" x2="412.29" y2="636.35" stroke="#262626" stroke-width="1.3"/>
<line x1="414.37" y1="633.35" x2="414.37" y2="636.35" stroke="#262626" stroke-width="1.3"/>
<line x1="416.20" y1="633.35" x2="416.20" y2="636.35" stroke="#262626" stroke-width="1.3"/>
<text x="372.17" y="654.75" font-size="12.5" textLength="14.3" lengthAdjust="spacingAndGlyphs">10</text><text x="387.27" y="649.15" font-size="7">1</text>
<line x1="417.83" y1="633.35" x2="417.83" y2="639.15" stroke="#262626" stroke-width="1.5"/>
<line x1="428.60" y1="633.35" x2="428.60" y2="636.35" stroke="#262626" stroke-width="1.3"/>
<line x1="434.90" y1="633.35" x2="434.90" y2="636.35" stroke="#262626" stroke-width="1.3"/>
<line x1="439.37" y1="633.35" x2="439.37" y2="636.35" stroke="#262626" stroke-width="1.3"/>
<line x1="442.83" y1="633.35" x2="442.83" y2="636.35" stroke="#262626" stroke-width="1.3"/>
<line x1="445.67" y1="633.35" x2="445.67" y2="636.35" stroke="#262626" stroke-width="1.3"/>
<line x1="448.06" y1="633.35" x2="448.06" y2="636.35" stroke="#262626" stroke-width="1.3"/>
<line x1="450.13" y1="633.35" x2="450.13" y2="636.35" stroke="#262626" stroke-width="1.3"/>
<line x1="451.96" y1="633.35" x2="451.96" y2="636.35" stroke="#262626" stroke-width="1.3"/>
<text x="407.93" y="654.75" font-size="12.5" textLength="14.3" lengthAdjust="spacingAndGlyphs">10</text><text x="423.03" y="649.15" font-size="7">2</text>
<line x1="453.60" y1="633.35" x2="453.60" y2="639.15" stroke="#262626" stroke-width="1.5"/>
<line x1="464.37" y1="633.35" x2="464.37" y2="636.35" stroke="#262626" stroke-width="1.3"/>
<line x1="470.67" y1="633.35" x2="470.67" y2="636.35" stroke="#262626" stroke-width="1.3"/>
<line x1="475.13" y1="633.35" x2="475.13" y2="636.35" stroke="#262626" stroke-width="1.3"/>
<line x1="478.60" y1="633.35" x2="478.60" y2="636.35" stroke="#262626" stroke-width="1.3"/>
<line x1="481.43" y1="633.35" x2="481.43" y2="636.35" stroke="#262626" stroke-width="1.3"/>
<line x1="483.83" y1="633.35" x2="483.83" y2="636.35" stroke="#262626" stroke-width="1.3"/>
<line x1="485.90" y1="633.35" x2="485.90" y2="636.35" stroke="#262626" stroke-width="1.3"/>
<line x1="487.73" y1="633.35" x2="487.73" y2="636.35" stroke="#262626" stroke-width="1.3"/>
<text x="443.70" y="654.75" font-size="12.5" textLength="14.3" lengthAdjust="spacingAndGlyphs">10</text><text x="458.80" y="649.15" font-size="7">3</text>
<line x1="489.37" y1="633.35" x2="489.37" y2="639.15" stroke="#262626" stroke-width="1.5"/>
<line x1="500.13" y1="633.35" x2="500.13" y2="636.35" stroke="#262626" stroke-width="1.3"/>
<line x1="506.43" y1="633.35" x2="506.43" y2="636.35" stroke="#262626" stroke-width="1.3"/>
<line x1="510.90" y1="633.35" x2="510.90" y2="636.35" stroke="#262626" stroke-width="1.3"/>
<line x1="514.37" y1="633.35" x2="514.37" y2="636.35" stroke="#262626" stroke-width="1.3"/>
<line x1="517.20" y1="633.35" x2="517.20" y2="636.35" stroke="#262626" stroke-width="1.3"/>
<line x1="519.59" y1="633.35" x2="519.59" y2="636.35" stroke="#262626" stroke-width="1.3"/>
<line x1="521.67" y1="633.35" x2="521.67" y2="636.35" stroke="#262626" stroke-width="1.3"/>
<line x1="523.50" y1="633.35" x2="523.50" y2="636.35" stroke="#262626" stroke-width="1.3"/>
<text x="479.47" y="654.75" font-size="12.5" textLength="14.3" lengthAdjust="spacingAndGlyphs">10</text><text x="494.57" y="649.15" font-size="7">4</text>
<line x1="525.13" y1="633.35" x2="525.13" y2="639.15" stroke="#262626" stroke-width="1.5"/>
<line x1="535.90" y1="633.35" x2="535.90" y2="636.35" stroke="#262626" stroke-width="1.3"/>
<line x1="542.20" y1="633.35" x2="542.20" y2="636.35" stroke="#262626" stroke-width="1.3"/>
<line x1="546.67" y1="633.35" x2="546.67" y2="636.35" stroke="#262626" stroke-width="1.3"/>
<line x1="550.13" y1="633.35" x2="550.13" y2="636.35" stroke="#262626" stroke-width="1.3"/>
<line x1="552.97" y1="633.35" x2="552.97" y2="636.35" stroke="#262626" stroke-width="1.3"/>
<line x1="555.36" y1="633.35" x2="555.36" y2="636.35" stroke="#262626" stroke-width="1.3"/>
<line x1="557.43" y1="633.35" x2="557.43" y2="636.35" stroke="#262626" stroke-width="1.3"/>
<line x1="559.26" y1="633.35" x2="559.26" y2="636.35" stroke="#262626" stroke-width="1.3"/>
<text x="515.23" y="654.75" font-size="12.5" textLength="14.3" lengthAdjust="spacingAndGlyphs">10</text><text x="530.33" y="649.15" font-size="7">5</text>
<line x1="560.90" y1="633.35" x2="560.90" y2="639.15" stroke="#262626" stroke-width="1.5"/>
<text x="551.00" y="654.75" font-size="12.5" textLength="14.3" lengthAdjust="spacingAndGlyphs">10</text><text x="566.10" y="649.15" font-size="7">6</text>
<rect x="346.3" y="367.15" width="214.60" height="266.20" fill="none" stroke="#262626" stroke-width="1.6"/>
<text transform="translate(17.8,262.0) rotate(-90)" font-size="14.8" textLength="208.2" lengthAdjust="spacingAndGlyphs">Thermal Conductivity (W/cm K)</text>
<text transform="translate(307.2,261.6) rotate(-90)" font-size="14.8" textLength="208" lengthAdjust="spacingAndGlyphs">Thermal Conductivity (W/cm K)</text>
<text transform="translate(20.7,569.2) rotate(-90)" font-size="14.8" textLength="153.6" lengthAdjust="spacingAndGlyphs">%Thermal Conductivity</text>
<text transform="translate(310.3,569.2) rotate(-90)" font-size="14.8" textLength="153.6" lengthAdjust="spacingAndGlyphs">%Thermal Conductivity</text>
<text x="101.2" y="342.9" font-size="14.2" textLength="133.4" lengthAdjust="spacingAndGlyphs">Period Length (nm)</text>
<text x="386.5" y="343.2" font-size="14.2" textLength="132.4" lengthAdjust="spacingAndGlyphs">Period Length (nm)</text>
<text x="101.2" y="678.6" font-size="14.2" textLength="133.4" lengthAdjust="spacingAndGlyphs">Period Length (nm)</text>
<text x="386.5" y="678.8" font-size="14.2" textLength="132.4" lengthAdjust="spacingAndGlyphs">Period Length (nm)</text>
</svg></body></html>
